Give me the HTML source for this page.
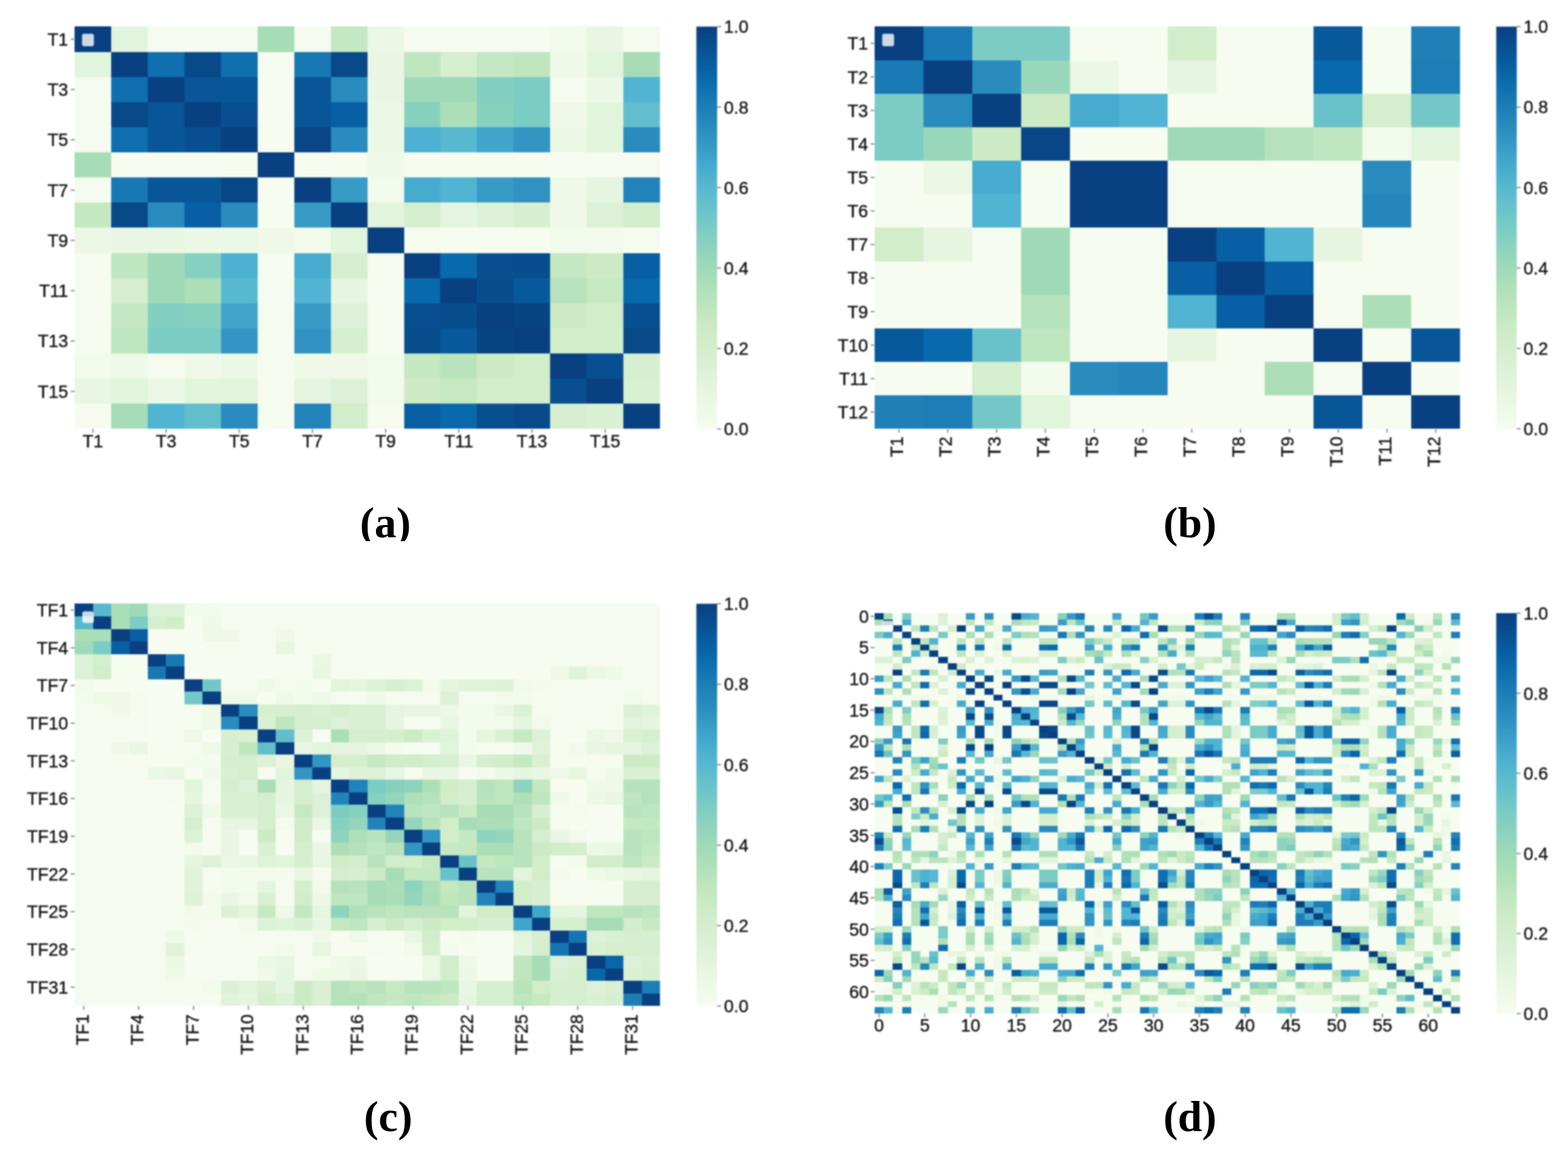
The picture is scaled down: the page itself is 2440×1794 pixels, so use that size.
<!DOCTYPE html>
<html lang="en"><head><meta charset="utf-8">
<meta name="viewport" content="width=2440">
<title>Similarity heatmaps (a)-(d)</title>
<style>
html,body{margin:0;padding:0;background:#fff;}
body{width:2440px;height:1794px;position:relative;overflow:hidden;}
.panel{position:absolute;margin:0;padding:0;}
.plot{position:absolute;left:0;top:0;display:block;overflow:visible;}
figcaption{position:absolute;overflow:hidden;text-align:center;font-family:"Liberation Serif","Times New Roman",serif;font-weight:bold;color:#000;line-height:1;white-space:nowrap;}
figcaption span{display:block;filter:blur(0.6px);}

</style></head><body>
<figure class="panel" style="left:0px;top:0px;width:1220px;height:897px">
<svg class="plot" width="1220" height="760" viewBox="0 0 1220 760">
<defs><linearGradient id="ga" x1="0" y1="1" x2="0" y2="0">
<stop offset="0%" stop-color="#f7fcf0"/>
<stop offset="5%" stop-color="#eef9e8"/>
<stop offset="10%" stop-color="#e5f5e0"/>
<stop offset="15%" stop-color="#dcf1d7"/>
<stop offset="20%" stop-color="#d4eece"/>
<stop offset="25%" stop-color="#ccebc5"/>
<stop offset="30%" stop-color="#bee6bf"/>
<stop offset="35%" stop-color="#afe0b8"/>
<stop offset="40%" stop-color="#9fdab8"/>
<stop offset="45%" stop-color="#8dd3be"/>
<stop offset="50%" stop-color="#7accc4"/>
<stop offset="55%" stop-color="#69c2ca"/>
<stop offset="60%" stop-color="#57b8d0"/>
<stop offset="65%" stop-color="#47abcf"/>
<stop offset="70%" stop-color="#389bc6"/>
<stop offset="75%" stop-color="#2a8bbe"/>
<stop offset="80%" stop-color="#1d7eb7"/>
<stop offset="85%" stop-color="#0f6faf"/>
<stop offset="90%" stop-color="#085fa3"/>
<stop offset="95%" stop-color="#084f91"/>
<stop offset="100%" stop-color="#084081"/>
</linearGradient></defs>
<g class="cells" shape-rendering="crispEdges" style="filter:blur(1.2px)">
<g transform="translate(116.1 41.4) scale(56.9375 39.13125)">
<path fill="#f6fbef" d="M0 0h16v16h-16z"/>
<path fill="#f7fcf0" d="M5 1h1v1h-1zM5 2h1v1h-1zM5 3h1v1h-1zM5 4h1v1h-1zM1 5h4v1h-4zM6 5h2v1h-2zM5 6h1v1h-1zM5 7h1v1h-1z"/>
<path fill="#f2faeb" d="M13 0h1v1h-1zM8 6h1v1h-1zM6 8h1v1h-1zM13 8h2v1h-2zM0 13h1v1h-1zM8 13h1v1h-1zM8 14h1v1h-1z"/>
<path fill="#f0f9e9" d="M13 3h1v1h-1zM8 5h1v1h-1zM13 7h1v1h-1zM5 8h1v1h-1zM3 13h1v1h-1zM7 13h1v1h-1z"/>
<path fill="#eef9e8" d="M13 1h1v1h-1zM13 6h1v1h-1zM1 13h1v1h-1zM6 13h1v1h-1z"/>
<path fill="#ecf8e6" d="M8 0h1v1h-1zM14 2h1v1h-1zM8 3h1v1h-1zM8 4h1v1h-1zM13 4h1v1h-1zM0 8h1v1h-1zM3 8h2v1h-2zM4 13h1v1h-1zM2 14h1v1h-1z"/>
<path fill="#e9f6e3" d="M14 0h1v1h-1zM8 1h1v1h-1zM8 2h1v1h-1zM1 8h2v1h-2zM0 14h1v1h-1z"/>
<path fill="#e5f5e0" d="M14 6h1v1h-1zM10 7h1v1h-1zM7 10h1v1h-1zM6 14h1v1h-1z"/>
<path fill="#e1f4dc" d="M1 0h1v1h-1zM0 1h1v1h-1zM14 1h1v1h-1zM14 3h1v1h-1zM14 4h1v1h-1zM8 7h1v1h-1zM7 8h1v1h-1zM1 14h1v1h-1zM3 14h2v1h-2z"/>
<path fill="#dcf1d7" d="M11 7h1v1h-1zM14 7h1v1h-1zM7 11h1v1h-1zM7 14h1v1h-1z"/>
<path fill="#d9f0d3" d="M15 14h1v1h-1zM14 15h1v1h-1z"/>
<path fill="#d7efd1" d="M12 7h1v1h-1zM7 12h1v1h-1zM15 13h1v1h-1zM13 15h1v1h-1z"/>
<path fill="#d4eece" d="M10 1h1v1h-1zM9 7h1v1h-1zM7 9h1v1h-1zM1 10h1v1h-1z"/>
<path fill="#d1edca" d="M15 7h1v1h-1zM14 11h1v1h-1zM13 12h2v1h-2zM12 13h1v1h-1zM11 14h2v1h-2zM7 15h1v1h-1z"/>
<path fill="#ccebc5" d="M14 9h1v1h-1zM13 11h1v1h-1zM11 13h1v1h-1zM9 14h1v1h-1z"/>
<path fill="#c6e9c2" d="M14 10h1v1h-1zM10 14h1v1h-1z"/>
<path fill="#c4e8c1" d="M7 0h1v1h-1zM11 1h1v1h-1zM0 7h1v1h-1zM13 9h1v1h-1zM1 11h1v1h-1zM9 13h1v1h-1z"/>
<path fill="#bee6bf" d="M9 1h1v1h-1zM12 1h1v1h-1zM1 9h1v1h-1zM1 12h1v1h-1z"/>
<path fill="#b9e3bc" d="M13 10h1v1h-1zM10 13h1v1h-1z"/>
<path fill="#acdfb7" d="M10 3h1v1h-1zM3 10h1v1h-1z"/>
<path fill="#a6dcb6" d="M5 0h1v1h-1zM15 1h1v1h-1zM0 5h1v1h-1zM1 15h1v1h-1z"/>
<path fill="#9fdab8" d="M9 2h2v1h-2zM2 9h1v1h-1zM2 10h1v1h-1z"/>
<path fill="#86d0c0" d="M9 3h1v1h-1zM11 3h1v1h-1zM3 9h1v1h-1zM3 11h1v1h-1z"/>
<path fill="#83cfc1" d="M11 2h1v1h-1zM2 11h1v1h-1z"/>
<path fill="#7accc4" d="M12 2h1v1h-1zM12 3h1v1h-1zM2 12h2v1h-2z"/>
<path fill="#62becc" d="M15 3h1v1h-1zM3 15h1v1h-1z"/>
<path fill="#57b8d0" d="M10 4h1v1h-1zM4 10h1v1h-1z"/>
<path fill="#50b4d2" d="M15 2h1v1h-1zM10 6h1v1h-1zM6 10h1v1h-1zM2 15h1v1h-1z"/>
<path fill="#4cb1d2" d="M9 4h1v1h-1zM4 9h1v1h-1z"/>
<path fill="#47abcf" d="M9 6h1v1h-1zM6 9h1v1h-1z"/>
<path fill="#41a5cb" d="M11 4h1v1h-1zM4 11h1v1h-1z"/>
<path fill="#389bc6" d="M7 6h1v1h-1zM11 6h1v1h-1zM6 7h1v1h-1zM6 11h1v1h-1z"/>
<path fill="#3395c3" d="M12 4h1v1h-1zM4 12h1v1h-1z"/>
<path fill="#3192c1" d="M12 6h1v1h-1zM6 12h1v1h-1z"/>
<path fill="#2a8bbe" d="M7 2h1v1h-1zM7 4h1v1h-1zM15 4h1v1h-1zM2 7h1v1h-1zM4 7h1v1h-1zM4 15h1v1h-1z"/>
<path fill="#2283ba" d="M15 6h1v1h-1zM6 15h1v1h-1z"/>
<path fill="#1878b4" d="M6 1h1v1h-1zM1 6h1v1h-1z"/>
<path fill="#0f6faf" d="M2 1h1v1h-1zM4 1h1v1h-1zM1 2h1v1h-1zM1 4h1v1h-1z"/>
<path fill="#0969ad" d="M10 9h1v1h-1zM9 10h1v1h-1zM15 10h1v1h-1zM10 15h1v1h-1z"/>
<path fill="#085fa3" d="M7 3h1v1h-1zM3 7h1v1h-1zM15 9h1v1h-1zM9 15h1v1h-1z"/>
<path fill="#08599c" d="M12 10h1v1h-1zM10 12h1v1h-1z"/>
<path fill="#085598" d="M3 2h2v1h-2zM6 2h1v1h-1zM2 3h1v1h-1zM6 3h1v1h-1zM2 4h1v1h-1zM2 6h2v1h-2z"/>
<path fill="#084f91" d="M4 3h1v1h-1zM3 4h1v1h-1zM11 9h1v1h-1zM9 11h1v1h-1zM15 11h1v1h-1zM14 13h1v1h-1zM13 14h1v1h-1zM11 15h1v1h-1z"/>
<path fill="#084d8e" d="M12 9h1v1h-1zM11 10h1v1h-1zM10 11h1v1h-1zM9 12h1v1h-1z"/>
<path fill="#08498a" d="M3 1h1v1h-1zM7 1h1v1h-1zM1 3h1v1h-1zM1 7h1v1h-1zM15 12h1v1h-1zM12 15h1v1h-1z"/>
<path fill="#084688" d="M6 4h1v1h-1zM4 6h1v1h-1z"/>
<path fill="#084384" d="M12 11h1v1h-1zM11 12h1v1h-1z"/>
<path fill="#084081" d="M0 0h1v1h-1zM1 1h1v1h-1zM2 2h1v1h-1zM3 3h1v1h-1zM4 4h1v1h-1zM5 5h1v1h-1zM6 6h1v1h-1zM7 7h1v1h-1zM8 8h1v1h-1zM9 9h1v1h-1zM10 10h1v1h-1zM11 11h1v1h-1zM12 12h1v1h-1zM13 13h1v1h-1zM14 14h1v1h-1zM15 15h1v1h-1z"/>
</g>
</g>
<g class="deco" style="filter:blur(0.85px)">
<rect class="marker" x="127.6" y="52.4" width="18.5" height="19.5" rx="3.5" fill="#fff" fill-opacity="0.8"/>
<g class="ticks" stroke="#777" stroke-width="1.7">
<line x1="110.1" y1="60.97" x2="116.1" y2="60.97"/>
<line x1="110.1" y1="139.23" x2="116.1" y2="139.23"/>
<line x1="110.1" y1="217.49" x2="116.1" y2="217.49"/>
<line x1="110.1" y1="295.75" x2="116.1" y2="295.75"/>
<line x1="110.1" y1="374.02" x2="116.1" y2="374.02"/>
<line x1="110.1" y1="452.28" x2="116.1" y2="452.28"/>
<line x1="110.1" y1="530.54" x2="116.1" y2="530.54"/>
<line x1="110.1" y1="608.8" x2="116.1" y2="608.8"/>
<line x1="144.57" y1="667.5" x2="144.57" y2="673.5"/>
<line x1="258.44" y1="667.5" x2="258.44" y2="673.5"/>
<line x1="372.32" y1="667.5" x2="372.32" y2="673.5"/>
<line x1="486.19" y1="667.5" x2="486.19" y2="673.5"/>
<line x1="600.07" y1="667.5" x2="600.07" y2="673.5"/>
<line x1="713.94" y1="667.5" x2="713.94" y2="673.5"/>
<line x1="827.82" y1="667.5" x2="827.82" y2="673.5"/>
<line x1="941.69" y1="667.5" x2="941.69" y2="673.5"/>
<line x1="1116" y1="667.5" x2="1122" y2="667.5"/>
<line x1="1116" y1="542.28" x2="1122" y2="542.28"/>
<line x1="1116" y1="417.06" x2="1122" y2="417.06"/>
<line x1="1116" y1="291.84" x2="1122" y2="291.84"/>
<line x1="1116" y1="166.62" x2="1122" y2="166.62"/>
<line x1="1116" y1="41.4" x2="1122" y2="41.4"/>
</g>
<g class="labels" font-family="'Liberation Sans', Arial, sans-serif" font-size="27.5" fill="#141414" stroke="#141414" stroke-width="0.5">
<text x="106.1" y="70.87" text-anchor="end">T1</text>
<text x="106.1" y="149.13" text-anchor="end">T3</text>
<text x="106.1" y="227.39" text-anchor="end">T5</text>
<text x="106.1" y="305.65" text-anchor="end">T7</text>
<text x="106.1" y="383.92" text-anchor="end">T9</text>
<text x="106.1" y="462.18" text-anchor="end">T11</text>
<text x="106.1" y="540.44" text-anchor="end">T13</text>
<text x="106.1" y="618.7" text-anchor="end">T15</text>
<text x="144.57" y="696.1" text-anchor="middle">T1</text>
<text x="258.44" y="696.1" text-anchor="middle">T3</text>
<text x="372.32" y="696.1" text-anchor="middle">T5</text>
<text x="486.19" y="696.1" text-anchor="middle">T7</text>
<text x="600.07" y="696.1" text-anchor="middle">T9</text>
<text x="713.94" y="696.1" text-anchor="middle">T11</text>
<text x="827.82" y="696.1" text-anchor="middle">T13</text>
<text x="941.69" y="696.1" text-anchor="middle">T15</text>
<text x="1126.5" y="677.4">0.0</text>
<text x="1126.5" y="552.18">0.2</text>
<text x="1126.5" y="426.96">0.4</text>
<text x="1126.5" y="301.74">0.6</text>
<text x="1126.5" y="176.52">0.8</text>
<text x="1126.5" y="51.3">1.0</text>
</g>
<rect class="cbar" x="1083.6" y="41.4" width="32.4" height="626.1" fill="url(#ga)"/>
</g>
</svg>
<figcaption style="left:499.7px;top:778.75px;width:200px;height:62.85px;font-size:68px"><span>(a)</span></figcaption>
</figure>
<figure class="panel" style="left:1220px;top:0px;width:1220px;height:897px">
<svg class="plot" width="1220" height="760" viewBox="1220 0 1220 760">
<defs><linearGradient id="gb" x1="0" y1="1" x2="0" y2="0">
<stop offset="0%" stop-color="#f7fcf0"/>
<stop offset="5%" stop-color="#eef9e8"/>
<stop offset="10%" stop-color="#e5f5e0"/>
<stop offset="15%" stop-color="#dcf1d7"/>
<stop offset="20%" stop-color="#d4eece"/>
<stop offset="25%" stop-color="#ccebc5"/>
<stop offset="30%" stop-color="#bee6bf"/>
<stop offset="35%" stop-color="#afe0b8"/>
<stop offset="40%" stop-color="#9fdab8"/>
<stop offset="45%" stop-color="#8dd3be"/>
<stop offset="50%" stop-color="#7accc4"/>
<stop offset="55%" stop-color="#69c2ca"/>
<stop offset="60%" stop-color="#57b8d0"/>
<stop offset="65%" stop-color="#47abcf"/>
<stop offset="70%" stop-color="#389bc6"/>
<stop offset="75%" stop-color="#2a8bbe"/>
<stop offset="80%" stop-color="#1d7eb7"/>
<stop offset="85%" stop-color="#0f6faf"/>
<stop offset="90%" stop-color="#085fa3"/>
<stop offset="95%" stop-color="#084f91"/>
<stop offset="100%" stop-color="#084081"/>
</linearGradient></defs>
<g class="cells" shape-rendering="crispEdges" style="filter:blur(1.2px)">
<g transform="translate(1360.8 41.4) scale(75.95833 52.15833)">
<path fill="#f7fcf0" d="M0 0h12v12h-12z"/>
<path fill="#f2faeb" d="M10 3h1v1h-1zM3 10h1v1h-1z"/>
<path fill="#ecf8e6" d="M4 1h1v1h-1zM1 4h1v1h-1z"/>
<path fill="#e5f5e0" d="M6 1h1v1h-1zM1 6h1v1h-1zM9 6h1v1h-1zM6 9h1v1h-1z"/>
<path fill="#e1f4dc" d="M11 3h1v1h-1zM3 11h1v1h-1z"/>
<path fill="#d4eece" d="M10 2h1v1h-1zM2 10h1v1h-1z"/>
<path fill="#d1edca" d="M6 0h1v1h-1zM0 6h1v1h-1z"/>
<path fill="#ccebc5" d="M3 2h1v1h-1zM2 3h1v1h-1z"/>
<path fill="#bee6bf" d="M9 3h1v1h-1zM3 9h1v1h-1z"/>
<path fill="#b5e2bb" d="M8 3h1v1h-1zM3 8h1v1h-1z"/>
<path fill="#acdfb7" d="M10 8h1v1h-1zM8 10h1v1h-1z"/>
<path fill="#9fdab8" d="M6 3h2v1h-2zM3 6h1v1h-1zM3 7h1v1h-1z"/>
<path fill="#98d7ba" d="M3 1h1v1h-1zM1 3h1v1h-1z"/>
<path fill="#7accc4" d="M2 0h2v1h-2zM0 2h1v1h-1zM0 3h1v1h-1z"/>
<path fill="#73c8c7" d="M11 2h1v1h-1zM2 11h1v1h-1z"/>
<path fill="#69c2ca" d="M9 2h1v1h-1zM2 9h1v1h-1z"/>
<path fill="#50b4d2" d="M5 2h1v1h-1zM2 5h1v1h-1zM8 6h1v1h-1zM6 8h1v1h-1z"/>
<path fill="#47abcf" d="M4 2h1v1h-1zM2 4h1v1h-1z"/>
<path fill="#2a8bbe" d="M2 1h1v1h-1zM1 2h1v1h-1zM10 4h1v1h-1zM4 10h1v1h-1z"/>
<path fill="#2586bb" d="M10 5h1v1h-1zM5 10h1v1h-1z"/>
<path fill="#1f80b8" d="M11 0h1v1h-1zM0 11h1v1h-1z"/>
<path fill="#1d7eb7" d="M11 1h1v1h-1zM1 11h1v1h-1z"/>
<path fill="#1a7ab5" d="M1 0h1v1h-1zM0 1h1v1h-1z"/>
<path fill="#0969ad" d="M9 1h1v1h-1zM1 9h1v1h-1z"/>
<path fill="#085fa3" d="M7 6h1v1h-1zM6 7h1v1h-1zM8 7h1v1h-1zM7 8h1v1h-1z"/>
<path fill="#08599c" d="M9 0h1v1h-1zM0 9h1v1h-1z"/>
<path fill="#085598" d="M11 9h1v1h-1zM9 11h1v1h-1z"/>
<path fill="#084688" d="M3 3h1v1h-1z"/>
<path fill="#084081" d="M0 0h1v1h-1zM1 1h1v1h-1zM2 2h1v1h-1zM4 4h2v1h-2zM4 5h2v1h-2zM6 6h1v1h-1zM7 7h1v1h-1zM8 8h1v1h-1zM9 9h1v1h-1zM10 10h1v1h-1zM11 11h1v1h-1z"/>
</g>
</g>
<g class="deco" style="filter:blur(0.85px)">
<rect class="marker" x="1372.8" y="52.6" width="18.5" height="19.5" rx="3.5" fill="#fff" fill-opacity="0.8"/>
<g class="ticks" stroke="#777" stroke-width="1.7">
<line x1="1354.8" y1="67.48" x2="1360.8" y2="67.48"/>
<line x1="1354.8" y1="119.64" x2="1360.8" y2="119.64"/>
<line x1="1354.8" y1="171.8" x2="1360.8" y2="171.8"/>
<line x1="1354.8" y1="223.95" x2="1360.8" y2="223.95"/>
<line x1="1354.8" y1="276.11" x2="1360.8" y2="276.11"/>
<line x1="1354.8" y1="328.27" x2="1360.8" y2="328.27"/>
<line x1="1354.8" y1="380.43" x2="1360.8" y2="380.43"/>
<line x1="1354.8" y1="432.59" x2="1360.8" y2="432.59"/>
<line x1="1354.8" y1="484.75" x2="1360.8" y2="484.75"/>
<line x1="1354.8" y1="536.9" x2="1360.8" y2="536.9"/>
<line x1="1354.8" y1="589.06" x2="1360.8" y2="589.06"/>
<line x1="1354.8" y1="641.22" x2="1360.8" y2="641.22"/>
<line x1="1398.78" y1="667.3" x2="1398.78" y2="673.3"/>
<line x1="1474.74" y1="667.3" x2="1474.74" y2="673.3"/>
<line x1="1550.7" y1="667.3" x2="1550.7" y2="673.3"/>
<line x1="1626.65" y1="667.3" x2="1626.65" y2="673.3"/>
<line x1="1702.61" y1="667.3" x2="1702.61" y2="673.3"/>
<line x1="1778.57" y1="667.3" x2="1778.57" y2="673.3"/>
<line x1="1854.53" y1="667.3" x2="1854.53" y2="673.3"/>
<line x1="1930.49" y1="667.3" x2="1930.49" y2="673.3"/>
<line x1="2006.45" y1="667.3" x2="2006.45" y2="673.3"/>
<line x1="2082.4" y1="667.3" x2="2082.4" y2="673.3"/>
<line x1="2158.36" y1="667.3" x2="2158.36" y2="673.3"/>
<line x1="2234.32" y1="667.3" x2="2234.32" y2="673.3"/>
<line x1="2360.3" y1="667.3" x2="2366.3" y2="667.3"/>
<line x1="2360.3" y1="542.12" x2="2366.3" y2="542.12"/>
<line x1="2360.3" y1="416.94" x2="2366.3" y2="416.94"/>
<line x1="2360.3" y1="291.76" x2="2366.3" y2="291.76"/>
<line x1="2360.3" y1="166.58" x2="2366.3" y2="166.58"/>
<line x1="2360.3" y1="41.4" x2="2366.3" y2="41.4"/>
</g>
<g class="labels" font-family="'Liberation Sans', Arial, sans-serif" font-size="27.5" fill="#141414" stroke="#141414" stroke-width="0.5">
<text x="1350.8" y="77.38" text-anchor="end">T1</text>
<text x="1350.8" y="129.54" text-anchor="end">T2</text>
<text x="1350.8" y="181.7" text-anchor="end">T3</text>
<text x="1350.8" y="233.85" text-anchor="end">T4</text>
<text x="1350.8" y="286.01" text-anchor="end">T5</text>
<text x="1350.8" y="338.17" text-anchor="end">T6</text>
<text x="1350.8" y="390.33" text-anchor="end">T7</text>
<text x="1350.8" y="442.49" text-anchor="end">T8</text>
<text x="1350.8" y="494.65" text-anchor="end">T9</text>
<text x="1350.8" y="546.8" text-anchor="end">T10</text>
<text x="1350.8" y="598.96" text-anchor="end">T11</text>
<text x="1350.8" y="651.12" text-anchor="end">T12</text>
<text transform="translate(1405.38 679.1) rotate(-90)" text-anchor="end">T1</text>
<text transform="translate(1481.34 679.1) rotate(-90)" text-anchor="end">T2</text>
<text transform="translate(1557.3 679.1) rotate(-90)" text-anchor="end">T3</text>
<text transform="translate(1633.25 679.1) rotate(-90)" text-anchor="end">T4</text>
<text transform="translate(1709.21 679.1) rotate(-90)" text-anchor="end">T5</text>
<text transform="translate(1785.17 679.1) rotate(-90)" text-anchor="end">T6</text>
<text transform="translate(1861.13 679.1) rotate(-90)" text-anchor="end">T7</text>
<text transform="translate(1937.09 679.1) rotate(-90)" text-anchor="end">T8</text>
<text transform="translate(2013.05 679.1) rotate(-90)" text-anchor="end">T9</text>
<text transform="translate(2089 679.1) rotate(-90)" text-anchor="end">T10</text>
<text transform="translate(2164.96 679.1) rotate(-90)" text-anchor="end">T11</text>
<text transform="translate(2240.92 679.1) rotate(-90)" text-anchor="end">T12</text>
<text x="2370.8" y="677.2">0.0</text>
<text x="2370.8" y="552.02">0.2</text>
<text x="2370.8" y="426.84">0.4</text>
<text x="2370.8" y="301.66">0.6</text>
<text x="2370.8" y="176.48">0.8</text>
<text x="2370.8" y="51.3">1.0</text>
</g>
<rect class="cbar" x="2328.3" y="41.4" width="32" height="625.9" fill="url(#gb)"/>
</g>
</svg>
<figcaption style="left:531.7px;top:778.75px;width:200px;height:96.95px;font-size:68px"><span>(b)</span></figcaption>
</figure>
<figure class="panel" style="left:0px;top:897px;width:1220px;height:897px">
<svg class="plot" width="1220" height="780" viewBox="0 897 1220 780">
<defs><linearGradient id="gc" x1="0" y1="1" x2="0" y2="0">
<stop offset="0%" stop-color="#f7fcf0"/>
<stop offset="5%" stop-color="#eef9e8"/>
<stop offset="10%" stop-color="#e5f5e0"/>
<stop offset="15%" stop-color="#dcf1d7"/>
<stop offset="20%" stop-color="#d4eece"/>
<stop offset="25%" stop-color="#ccebc5"/>
<stop offset="30%" stop-color="#bee6bf"/>
<stop offset="35%" stop-color="#afe0b8"/>
<stop offset="40%" stop-color="#9fdab8"/>
<stop offset="45%" stop-color="#8dd3be"/>
<stop offset="50%" stop-color="#7accc4"/>
<stop offset="55%" stop-color="#69c2ca"/>
<stop offset="60%" stop-color="#57b8d0"/>
<stop offset="65%" stop-color="#47abcf"/>
<stop offset="70%" stop-color="#389bc6"/>
<stop offset="75%" stop-color="#2a8bbe"/>
<stop offset="80%" stop-color="#1d7eb7"/>
<stop offset="85%" stop-color="#0f6faf"/>
<stop offset="90%" stop-color="#085fa3"/>
<stop offset="95%" stop-color="#084f91"/>
<stop offset="100%" stop-color="#084081"/>
</linearGradient></defs>
<g class="cells" shape-rendering="crispEdges" style="filter:blur(1.2px)">
<g transform="translate(116.1 939.4) scale(28.46875 19.55625)">
<path fill="#f6fbef" d="M0 0h32v32h-32z"/>
<path fill="#f7fcf0" d="M6 1h1v1h-1zM4 2h3v1h-3zM4 3h3v1h-3zM2 4h2v1h-2zM6 4h7v1h-7zM2 5h2v1h-2zM6 5h7v1h-7zM16 5h10v1h-10zM1 6h5v1h-5zM13 6h1v1h-1zM4 7h2v1h-2zM10 7h1v1h-1zM4 8h2v1h-2zM4 9h2v1h-2zM18 9h2v1h-2zM4 10h2v1h-2zM7 10h1v1h-1zM13 10h1v1h-1zM4 11h2v1h-2zM18 11h2v1h-2zM4 12h2v1h-2zM6 13h1v1h-1zM10 13h1v1h-1zM18 13h1v1h-1zM26 14h2v1h-2zM27 15h1v1h-1zM5 16h1v1h-1zM28 16h2v1h-2zM5 17h1v1h-1zM27 17h3v1h-3zM5 18h1v1h-1zM9 18h1v1h-1zM11 18h1v1h-1zM13 18h1v1h-1zM28 18h2v1h-2zM5 19h1v1h-1zM9 19h1v1h-1zM11 19h1v1h-1zM5 20h1v1h-1zM26 20h1v1h-1zM5 21h1v1h-1zM27 21h1v1h-1zM5 22h1v1h-1zM26 22h4v1h-4zM5 23h1v1h-1zM26 23h4v1h-4zM5 24h1v1h-1zM5 25h1v1h-1zM14 26h1v1h-1zM20 26h1v1h-1zM22 26h2v1h-2zM14 27h2v1h-2zM17 27h1v1h-1zM21 27h3v1h-3zM16 28h3v1h-3zM22 28h2v1h-2zM16 29h3v1h-3zM22 29h2v1h-2z"/>
<path fill="#f3fbed" d="M7 0h1v1h-1zM12 6h1v1h-1zM25 6h1v1h-1zM0 7h1v1h-1zM12 7h1v1h-1zM24 7h1v1h-1zM21 8h2v1h-2zM21 9h2v1h-2zM21 10h1v1h-1zM17 11h1v1h-1zM21 11h1v1h-1zM6 12h2v1h-2zM11 17h1v1h-1zM27 20h1v1h-1zM8 21h4v1h-4zM26 21h1v1h-1zM8 22h2v1h-2zM7 24h1v1h-1zM6 25h1v1h-1zM21 26h1v1h-1zM20 27h1v1h-1z"/>
<path fill="#f2faeb" d="M6 0h1v1h-1zM0 6h1v1h-1zM19 6h1v1h-1zM24 6h1v1h-1zM23 7h1v1h-1zM30 7h1v1h-1zM23 9h1v1h-1zM25 9h1v1h-1zM27 11h1v1h-1zM22 13h1v1h-1zM27 18h1v1h-1zM6 19h1v1h-1zM13 22h1v1h-1zM7 23h1v1h-1zM9 23h1v1h-1zM6 24h1v1h-1zM9 25h1v1h-1zM11 27h1v1h-1zM18 27h1v1h-1zM7 30h1v1h-1z"/>
<path fill="#f0f9e9" d="M7 2h2v1h-2zM11 2h1v1h-1zM2 7h1v1h-1zM13 7h1v1h-1zM2 8h1v1h-1zM29 10h1v1h-1zM2 11h1v1h-1zM24 11h1v1h-1zM7 13h1v1h-1zM26 13h1v1h-1zM11 24h1v1h-1zM13 26h1v1h-1zM10 29h1v1h-1z"/>
<path fill="#eef9e8" d="M7 1h1v1h-1zM26 5h1v1h-1zM29 5h1v1h-1zM10 6h1v1h-1zM1 7h1v1h-1zM8 7h2v1h-2zM11 7h1v1h-1zM16 7h1v1h-1zM7 8h1v1h-1zM7 9h1v1h-1zM6 10h1v1h-1zM7 11h1v1h-1zM29 13h1v1h-1zM28 14h2v1h-2zM26 15h1v1h-1zM7 16h1v1h-1zM28 21h1v1h-1zM5 26h1v1h-1zM15 26h1v1h-1zM14 28h1v1h-1zM21 28h1v1h-1zM5 29h1v1h-1zM13 29h2v1h-2z"/>
<path fill="#ecf8e6" d="M28 5h1v1h-1zM20 8h1v1h-1zM28 10h1v1h-1zM23 13h1v1h-1zM28 15h1v1h-1zM28 19h1v1h-1zM8 20h1v1h-1zM29 21h1v1h-1zM13 23h1v1h-1zM5 28h1v1h-1zM10 28h1v1h-1zM15 28h1v1h-1zM19 28h1v1h-1zM21 29h1v1h-1z"/>
<path fill="#ebf7e5" d="M13 4h1v1h-1zM16 11h1v1h-1zM4 13h1v1h-1zM11 16h1v1h-1zM29 19h1v1h-1zM19 29h1v1h-1z"/>
<path fill="#e9f6e3" d="M11 3h1v1h-1zM13 5h1v1h-1zM18 8h2v1h-2zM23 8h1v1h-1zM20 9h1v1h-1zM3 11h1v1h-1zM12 11h1v1h-1zM28 11h1v1h-1zM11 12h1v1h-1zM21 12h1v1h-1zM5 13h1v1h-1zM17 13h1v1h-1zM19 13h2v1h-2zM25 13h1v1h-1zM29 15h1v1h-1zM13 17h1v1h-1zM8 18h1v1h-1zM26 18h1v1h-1zM8 19h1v1h-1zM13 19h1v1h-1zM9 20h1v1h-1zM13 20h1v1h-1zM12 21h1v1h-1zM30 21h1v1h-1zM8 23h1v1h-1zM13 25h1v1h-1zM18 26h1v1h-1zM11 28h1v1h-1zM15 29h1v1h-1zM21 30h1v1h-1z"/>
<path fill="#e6f6e1" d="M27 13h1v1h-1zM13 27h1v1h-1z"/>
<path fill="#e5f5e0" d="M15 6h1v1h-1zM20 6h1v1h-1zM17 8h1v1h-1zM17 9h1v1h-1zM24 9h1v1h-1zM31 9h1v1h-1zM22 10h1v1h-1zM14 11h2v1h-2zM29 11h2v1h-2zM14 13h1v1h-1zM24 13h1v1h-1zM11 14h1v1h-1zM13 14h1v1h-1zM6 15h1v1h-1zM11 15h1v1h-1zM8 17h2v1h-2zM6 20h1v1h-1zM31 21h1v1h-1zM10 22h1v1h-1zM9 24h1v1h-1zM13 24h1v1h-1zM27 24h1v1h-1zM24 27h1v1h-1zM11 29h1v1h-1zM11 30h1v1h-1zM9 31h1v1h-1zM21 31h1v1h-1z"/>
<path fill="#e1f4dc" d="M14 6h1v1h-1zM30 9h1v1h-1zM13 11h1v1h-1zM20 11h1v1h-1zM11 13h1v1h-1zM6 14h1v1h-1zM11 20h1v1h-1zM24 21h1v1h-1zM21 24h1v1h-1zM26 24h1v1h-1zM24 26h1v1h-1zM9 30h1v1h-1z"/>
<path fill="#dff3da" d="M27 5h1v1h-1zM21 6h2v1h-2zM31 8h1v1h-1zM20 10h1v1h-1zM25 11h1v1h-1zM10 20h1v1h-1zM6 21h1v1h-1zM6 22h1v1h-1zM11 25h1v1h-1zM5 27h1v1h-1zM8 31h1v1h-1z"/>
<path fill="#def2d9" d="M23 6h1v1h-1zM6 23h1v1h-1z"/>
<path fill="#dcf1d7" d="M4 0h2v1h-2zM0 4h1v1h-1zM0 5h1v1h-1zM16 6h1v1h-1zM18 6h1v1h-1zM20 7h1v1h-1zM14 9h1v1h-1zM12 10h1v1h-1zM25 10h1v1h-1zM31 11h1v1h-1zM10 12h1v1h-1zM15 13h2v1h-2zM9 14h1v1h-1zM13 15h1v1h-1zM6 16h1v1h-1zM13 16h1v1h-1zM6 18h1v1h-1zM7 20h1v1h-1zM10 25h1v1h-1zM28 26h1v1h-1zM26 28h1v1h-1zM30 28h1v1h-1zM28 30h1v1h-1zM11 31h1v1h-1z"/>
<path fill="#dbf1d5" d="M24 8h1v1h-1zM30 8h1v1h-1zM8 24h1v1h-1zM8 30h1v1h-1z"/>
<path fill="#d9f0d3" d="M13 8h1v1h-1zM15 8h2v1h-2zM10 9h1v1h-1zM15 9h2v1h-2zM9 10h1v1h-1zM19 10h1v1h-1zM23 10h1v1h-1zM30 10h1v1h-1zM25 12h1v1h-1zM8 13h1v1h-1zM30 13h2v1h-2zM8 15h2v1h-2zM8 16h2v1h-2zM10 19h1v1h-1zM10 23h1v1h-1zM12 25h1v1h-1zM29 26h1v1h-1zM28 27h1v1h-1zM27 28h1v1h-1zM31 28h1v1h-1zM26 29h1v1h-1zM30 29h1v1h-1zM10 30h1v1h-1zM13 30h1v1h-1zM29 30h1v1h-1zM13 31h1v1h-1zM28 31h1v1h-1z"/>
<path fill="#d7efd1" d="M17 6h1v1h-1zM10 8h2v1h-2zM8 10h1v1h-1zM31 10h1v1h-1zM8 11h1v1h-1zM20 12h1v1h-1zM21 15h1v1h-1zM25 16h1v1h-1zM6 17h1v1h-1zM12 20h1v1h-1zM15 21h1v1h-1zM25 22h1v1h-1zM30 22h1v1h-1zM25 23h1v1h-1zM30 23h1v1h-1zM16 25h1v1h-1zM22 25h2v1h-2zM26 25h1v1h-1zM25 26h1v1h-1zM31 26h1v1h-1zM31 29h1v1h-1zM22 30h2v1h-2zM10 31h1v1h-1zM26 31h1v1h-1zM29 31h1v1h-1z"/>
<path fill="#d4eece" d="M4 1h1v1h-1zM1 4h1v1h-1zM12 8h1v1h-1zM14 8h1v1h-1zM12 9h2v1h-2zM15 10h3v1h-3zM8 12h2v1h-2zM14 12h2v1h-2zM19 12h1v1h-1zM22 12h1v1h-1zM9 13h1v1h-1zM8 14h1v1h-1zM12 14h1v1h-1zM21 14h1v1h-1zM10 15h1v1h-1zM12 15h1v1h-1zM10 16h1v1h-1zM10 17h1v1h-1zM25 18h1v1h-1zM12 19h1v1h-1zM27 19h1v1h-1zM14 21h1v1h-1zM12 22h1v1h-1zM31 22h1v1h-1zM31 23h1v1h-1zM18 25h1v1h-1zM27 25h1v1h-1zM30 26h1v1h-1zM19 27h1v1h-1zM25 27h1v1h-1zM29 27h3v1h-3zM27 29h1v1h-1zM26 30h2v1h-2zM22 31h2v1h-2zM27 31h1v1h-1z"/>
<path fill="#d1edca" d="M5 1h1v1h-1zM1 5h1v1h-1zM23 12h1v1h-1zM20 15h1v1h-1zM20 17h1v1h-1zM20 18h1v1h-1zM26 19h1v1h-1zM15 20h1v1h-1zM17 20h2v1h-2zM25 20h1v1h-1zM28 20h2v1h-2zM25 21h1v1h-1zM24 22h1v1h-1zM12 23h1v1h-1zM24 23h1v1h-1zM22 24h2v1h-2zM20 25h2v1h-2zM30 25h1v1h-1zM19 26h1v1h-1zM20 28h1v1h-1zM20 29h1v1h-1zM25 30h1v1h-1z"/>
<path fill="#d0ecc9" d="M17 12h2v1h-2zM20 14h1v1h-1zM12 17h1v1h-1zM12 18h1v1h-1zM14 20h1v1h-1z"/>
<path fill="#ccebc5" d="M18 10h1v1h-1zM30 12h2v1h-2zM21 16h1v1h-1zM25 17h1v1h-1zM10 18h1v1h-1zM25 19h1v1h-1zM31 20h1v1h-1zM16 21h1v1h-1zM17 25h1v1h-1zM19 25h1v1h-1zM12 30h1v1h-1zM12 31h1v1h-1zM20 31h1v1h-1z"/>
<path fill="#c6e9c2" d="M24 10h1v1h-1zM16 12h1v1h-1zM12 16h1v1h-1zM30 17h1v1h-1zM20 19h1v1h-1zM19 20h1v1h-1zM10 24h1v1h-1zM31 25h1v1h-1zM17 30h1v1h-1zM25 31h1v1h-1z"/>
<path fill="#c4e8c1" d="M24 12h1v1h-1zM25 14h1v1h-1zM31 17h1v1h-1zM21 18h1v1h-1zM21 19h1v1h-1zM31 19h1v1h-1zM22 20h1v1h-1zM18 21h2v1h-2zM20 22h1v1h-1zM12 24h1v1h-1zM14 25h1v1h-1zM17 31h1v1h-1zM19 31h1v1h-1z"/>
<path fill="#bee6bf" d="M11 9h1v1h-1zM9 11h1v1h-1zM23 14h1v1h-1zM23 15h1v1h-1zM25 15h1v1h-1zM30 15h1v1h-1zM19 16h1v1h-1zM31 16h1v1h-1zM24 17h1v1h-1zM31 18h1v1h-1zM16 19h1v1h-1zM23 20h1v1h-1zM30 20h1v1h-1zM14 23h2v1h-2zM20 23h1v1h-1zM17 24h1v1h-1zM28 24h2v1h-2zM31 24h1v1h-1zM15 25h1v1h-1zM24 28h1v1h-1zM24 29h1v1h-1zM15 30h1v1h-1zM20 30h1v1h-1zM16 31h1v1h-1zM18 31h1v1h-1zM24 31h1v1h-1z"/>
<path fill="#b9e3bc" d="M22 15h1v1h-1zM18 16h1v1h-1zM20 16h1v1h-1zM24 16h1v1h-1zM30 16h1v1h-1zM19 17h1v1h-1zM16 18h1v1h-1zM24 18h1v1h-1zM30 18h1v1h-1zM17 19h1v1h-1zM24 19h1v1h-1zM30 19h1v1h-1zM16 20h1v1h-1zM24 20h1v1h-1zM22 21h2v1h-2zM15 22h1v1h-1zM21 22h1v1h-1zM21 23h1v1h-1zM16 24h1v1h-1zM18 24h3v1h-3zM30 24h1v1h-1zM16 30h1v1h-1zM18 30h2v1h-2zM24 30h1v1h-1z"/>
<path fill="#b5e2bb" d="M22 14h1v1h-1zM30 14h2v1h-2zM19 15h1v1h-1zM31 15h1v1h-1zM15 19h1v1h-1zM14 22h1v1h-1zM14 30h1v1h-1zM14 31h2v1h-2z"/>
<path fill="#afe0b8" d="M18 15h1v1h-1zM24 15h1v1h-1zM15 18h1v1h-1zM15 24h1v1h-1z"/>
<path fill="#acdfb7" d="M19 14h1v1h-1zM22 17h1v1h-1zM14 19h1v1h-1zM22 19h1v1h-1zM17 22h1v1h-1zM19 22h1v1h-1z"/>
<path fill="#aadeb6" d="M2 0h1v1h-1zM2 1h1v1h-1zM0 2h2v1h-2zM14 10h1v1h-1zM10 14h1v1h-1zM23 17h1v1h-1zM23 19h1v1h-1zM17 23h1v1h-1zM19 23h1v1h-1z"/>
<path fill="#a6dcb6" d="M22 16h2v1h-2zM21 17h1v1h-1zM17 21h1v1h-1zM16 22h1v1h-1zM16 23h1v1h-1zM28 25h2v1h-2zM25 28h1v1h-1zM25 29h1v1h-1z"/>
<path fill="#9fdab8" d="M3 0h1v1h-1zM0 3h1v1h-1z"/>
<path fill="#94d5bc" d="M17 15h1v1h-1zM15 17h1v1h-1zM18 17h1v1h-1zM17 18h1v1h-1zM23 18h1v1h-1zM18 23h1v1h-1z"/>
<path fill="#8dd3be" d="M18 14h1v1h-1zM24 14h1v1h-1zM14 18h1v1h-1zM22 18h1v1h-1zM18 22h1v1h-1zM14 24h1v1h-1z"/>
<path fill="#86d0c0" d="M17 14h1v1h-1zM16 15h1v1h-1zM15 16h1v1h-1zM14 17h1v1h-1z"/>
<path fill="#7accc4" d="M3 1h1v1h-1zM1 3h1v1h-1zM16 14h1v1h-1zM14 16h1v1h-1z"/>
<path fill="#73c8c7" d="M7 6h1v1h-1zM6 7h1v1h-1z"/>
<path fill="#69c2ca" d="M21 20h1v1h-1zM20 21h1v1h-1z"/>
<path fill="#62becc" d="M11 10h1v1h-1zM10 11h1v1h-1z"/>
<path fill="#57b8d0" d="M1 0h1v1h-1zM0 1h1v1h-1z"/>
<path fill="#41a5cb" d="M25 24h1v1h-1zM24 25h1v1h-1z"/>
<path fill="#3395c3" d="M13 12h1v1h-1zM12 13h1v1h-1zM19 18h1v1h-1zM18 19h1v1h-1z"/>
<path fill="#2a8bbe" d="M9 8h1v1h-1zM8 9h1v1h-1z"/>
<path fill="#2283ba" d="M15 14h1v1h-1zM14 15h1v1h-1zM17 16h1v1h-1zM16 17h1v1h-1zM23 22h1v1h-1zM22 23h1v1h-1z"/>
<path fill="#1d7eb7" d="M31 30h1v1h-1zM30 31h1v1h-1z"/>
<path fill="#1878b4" d="M5 4h1v1h-1zM4 5h1v1h-1z"/>
<path fill="#1475b2" d="M27 26h1v1h-1zM26 27h1v1h-1z"/>
<path fill="#0866a9" d="M29 28h1v1h-1zM28 29h1v1h-1z"/>
<path fill="#085fa3" d="M3 2h1v1h-1zM2 3h1v1h-1z"/>
<path fill="#084081" d="M0 0h1v1h-1zM1 1h1v1h-1zM2 2h1v1h-1zM3 3h1v1h-1zM4 4h1v1h-1zM5 5h1v1h-1zM6 6h1v1h-1zM7 7h1v1h-1zM8 8h1v1h-1zM9 9h1v1h-1zM10 10h1v1h-1zM11 11h1v1h-1zM12 12h1v1h-1zM13 13h1v1h-1zM14 14h1v1h-1zM15 15h1v1h-1zM16 16h1v1h-1zM17 17h1v1h-1zM18 18h1v1h-1zM19 19h1v1h-1zM20 20h1v1h-1zM21 21h1v1h-1zM22 22h1v1h-1zM23 23h1v1h-1zM24 24h1v1h-1zM25 25h1v1h-1zM26 26h1v1h-1zM27 27h1v1h-1zM28 28h1v1h-1zM29 29h1v1h-1zM30 30h1v1h-1zM31 31h1v1h-1z"/>
</g>
</g>
<g class="deco" style="filter:blur(0.85px)">
<rect class="marker" x="128" y="951.2" width="18" height="18" rx="3.5" fill="#fff" fill-opacity="0.8"/>
<g class="ticks" stroke="#777" stroke-width="1.7">
<line x1="110.1" y1="949.18" x2="116.1" y2="949.18"/>
<line x1="110.1" y1="1007.85" x2="116.1" y2="1007.85"/>
<line x1="110.1" y1="1066.52" x2="116.1" y2="1066.52"/>
<line x1="110.1" y1="1125.18" x2="116.1" y2="1125.18"/>
<line x1="110.1" y1="1183.85" x2="116.1" y2="1183.85"/>
<line x1="110.1" y1="1242.52" x2="116.1" y2="1242.52"/>
<line x1="110.1" y1="1301.19" x2="116.1" y2="1301.19"/>
<line x1="110.1" y1="1359.86" x2="116.1" y2="1359.86"/>
<line x1="110.1" y1="1418.53" x2="116.1" y2="1418.53"/>
<line x1="110.1" y1="1477.2" x2="116.1" y2="1477.2"/>
<line x1="110.1" y1="1535.87" x2="116.1" y2="1535.87"/>
<line x1="130.33" y1="1565.2" x2="130.33" y2="1571.2"/>
<line x1="215.74" y1="1565.2" x2="215.74" y2="1571.2"/>
<line x1="301.15" y1="1565.2" x2="301.15" y2="1571.2"/>
<line x1="386.55" y1="1565.2" x2="386.55" y2="1571.2"/>
<line x1="471.96" y1="1565.2" x2="471.96" y2="1571.2"/>
<line x1="557.37" y1="1565.2" x2="557.37" y2="1571.2"/>
<line x1="642.77" y1="1565.2" x2="642.77" y2="1571.2"/>
<line x1="728.18" y1="1565.2" x2="728.18" y2="1571.2"/>
<line x1="813.58" y1="1565.2" x2="813.58" y2="1571.2"/>
<line x1="898.99" y1="1565.2" x2="898.99" y2="1571.2"/>
<line x1="984.4" y1="1565.2" x2="984.4" y2="1571.2"/>
<line x1="1116" y1="1565.2" x2="1122" y2="1565.2"/>
<line x1="1116" y1="1440.04" x2="1122" y2="1440.04"/>
<line x1="1116" y1="1314.88" x2="1122" y2="1314.88"/>
<line x1="1116" y1="1189.72" x2="1122" y2="1189.72"/>
<line x1="1116" y1="1064.56" x2="1122" y2="1064.56"/>
<line x1="1116" y1="939.4" x2="1122" y2="939.4"/>
</g>
<g class="labels" font-family="'Liberation Sans', Arial, sans-serif" font-size="27.5" fill="#141414" stroke="#141414" stroke-width="0.5">
<text x="106.1" y="959.08" text-anchor="end">TF1</text>
<text x="106.1" y="1017.75" text-anchor="end">TF4</text>
<text x="106.1" y="1076.42" text-anchor="end">TF7</text>
<text x="106.1" y="1135.08" text-anchor="end">TF10</text>
<text x="106.1" y="1193.75" text-anchor="end">TF13</text>
<text x="106.1" y="1252.42" text-anchor="end">TF16</text>
<text x="106.1" y="1311.09" text-anchor="end">TF19</text>
<text x="106.1" y="1369.76" text-anchor="end">TF22</text>
<text x="106.1" y="1428.43" text-anchor="end">TF25</text>
<text x="106.1" y="1487.1" text-anchor="end">TF28</text>
<text x="106.1" y="1545.77" text-anchor="end">TF31</text>
<text transform="translate(138.03 1578.2) rotate(-90)" text-anchor="end" font-size="27">TF1</text>
<text transform="translate(223.44 1578.2) rotate(-90)" text-anchor="end" font-size="27">TF4</text>
<text transform="translate(308.85 1578.2) rotate(-90)" text-anchor="end" font-size="27">TF7</text>
<text transform="translate(394.25 1578.2) rotate(-90)" text-anchor="end" font-size="27">TF10</text>
<text transform="translate(479.66 1578.2) rotate(-90)" text-anchor="end" font-size="27">TF13</text>
<text transform="translate(565.07 1578.2) rotate(-90)" text-anchor="end" font-size="27">TF16</text>
<text transform="translate(650.47 1578.2) rotate(-90)" text-anchor="end" font-size="27">TF19</text>
<text transform="translate(735.88 1578.2) rotate(-90)" text-anchor="end" font-size="27">TF22</text>
<text transform="translate(821.28 1578.2) rotate(-90)" text-anchor="end" font-size="27">TF25</text>
<text transform="translate(906.69 1578.2) rotate(-90)" text-anchor="end" font-size="27">TF28</text>
<text transform="translate(992.1 1578.2) rotate(-90)" text-anchor="end" font-size="27">TF31</text>
<text x="1126.5" y="1575.1">0.0</text>
<text x="1126.5" y="1449.94">0.2</text>
<text x="1126.5" y="1324.78">0.4</text>
<text x="1126.5" y="1199.62">0.6</text>
<text x="1126.5" y="1074.46">0.8</text>
<text x="1126.5" y="949.3">1.0</text>
</g>
<rect class="cbar" x="1083.6" y="939.4" width="32.4" height="625.8" fill="url(#gc)"/>
</g>
</svg>
<figcaption style="left:504.1px;top:805.95px;width:200px;height:96.95px;font-size:68px"><span>(c)</span></figcaption>
</figure>
<figure class="panel" style="left:1220px;top:897px;width:1220px;height:897px">
<svg class="plot" width="1220" height="780" viewBox="1220 897 1220 780">
<defs><linearGradient id="gd" x1="0" y1="1" x2="0" y2="0">
<stop offset="0%" stop-color="#f7fcf0"/>
<stop offset="5%" stop-color="#eef9e8"/>
<stop offset="10%" stop-color="#e5f5e0"/>
<stop offset="15%" stop-color="#dcf1d7"/>
<stop offset="20%" stop-color="#d4eece"/>
<stop offset="25%" stop-color="#ccebc5"/>
<stop offset="30%" stop-color="#bee6bf"/>
<stop offset="35%" stop-color="#afe0b8"/>
<stop offset="40%" stop-color="#9fdab8"/>
<stop offset="45%" stop-color="#8dd3be"/>
<stop offset="50%" stop-color="#7accc4"/>
<stop offset="55%" stop-color="#69c2ca"/>
<stop offset="60%" stop-color="#57b8d0"/>
<stop offset="65%" stop-color="#47abcf"/>
<stop offset="70%" stop-color="#389bc6"/>
<stop offset="75%" stop-color="#2a8bbe"/>
<stop offset="80%" stop-color="#1d7eb7"/>
<stop offset="85%" stop-color="#0f6faf"/>
<stop offset="90%" stop-color="#085fa3"/>
<stop offset="95%" stop-color="#084f91"/>
<stop offset="100%" stop-color="#084081"/>
</linearGradient></defs>
<g class="cells" shape-rendering="crispEdges" style="filter:blur(1.2px)">
<g transform="translate(1360.8 954) scale(14.24219 9.73594)">
<path fill="#f7fcf0" d="M0 0h64v64h-64z"/>
<path fill="#f6fbef" d="M13 3h1v1h-1zM8 4h1v1h-1zM13 6h1v1h-1zM4 8h1v1h-1zM3 13h1v1h-1zM6 13h1v1h-1zM28 24h1v1h-1zM24 28h1v1h-1z"/>
<path fill="#f3fbed" d="M62 1h1v1h-1zM24 2h1v1h-1zM62 2h1v1h-1zM24 3h2v1h-2zM13 4h1v1h-1zM8 5h1v1h-1zM8 6h1v1h-1zM62 6h1v1h-1zM5 8h2v1h-2zM14 8h1v1h-1zM18 8h2v1h-2zM22 8h1v1h-1zM28 8h1v1h-1zM24 9h1v1h-1zM13 11h1v1h-1zM4 13h1v1h-1zM11 13h1v1h-1zM24 13h1v1h-1zM34 13h1v1h-1zM38 13h2v1h-2zM54 13h1v1h-1zM59 13h1v1h-1zM61 13h1v1h-1zM8 14h1v1h-1zM8 18h1v1h-1zM8 19h1v1h-1zM8 22h1v1h-1zM2 24h2v1h-2zM9 24h1v1h-1zM13 24h1v1h-1zM57 24h1v1h-1zM3 25h1v1h-1zM58 26h1v1h-1zM8 28h1v1h-1zM62 29h1v1h-1zM62 32h1v1h-1zM13 34h1v1h-1zM13 38h1v1h-1zM13 39h1v1h-1zM62 50h1v1h-1zM13 54h1v1h-1zM24 57h1v1h-1zM26 58h1v1h-1zM13 59h1v1h-1zM13 61h1v1h-1zM1 62h2v1h-2zM6 62h1v1h-1zM29 62h1v1h-1zM32 62h1v1h-1zM50 62h1v1h-1z"/>
<path fill="#f2faeb" d="M60 1h1v1h-1zM62 3h1v1h-1zM11 8h1v1h-1zM49 8h1v1h-1zM8 11h1v1h-1zM18 13h2v1h-2zM25 13h1v1h-1zM27 13h1v1h-1zM32 13h1v1h-1zM47 13h1v1h-1zM49 13h1v1h-1zM53 17h1v1h-1zM13 18h1v1h-1zM13 19h1v1h-1zM62 22h1v1h-1zM60 23h1v1h-1zM38 24h1v1h-1zM47 24h1v1h-1zM13 25h1v1h-1zM50 26h1v1h-1zM13 27h1v1h-1zM13 32h1v1h-1zM58 35h1v1h-1zM24 38h1v1h-1zM59 38h1v1h-1zM50 44h1v1h-1zM60 44h1v1h-1zM62 45h1v1h-1zM13 47h1v1h-1zM24 47h1v1h-1zM8 49h1v1h-1zM13 49h1v1h-1zM54 49h1v1h-1zM26 50h1v1h-1zM44 50h1v1h-1zM17 53h1v1h-1zM49 54h1v1h-1zM35 58h1v1h-1zM38 59h1v1h-1zM62 59h1v1h-1zM1 60h1v1h-1zM23 60h1v1h-1zM44 60h1v1h-1zM62 61h1v1h-1zM3 62h1v1h-1zM22 62h1v1h-1zM45 62h1v1h-1zM59 62h1v1h-1zM61 62h1v1h-1z"/>
<path fill="#f0f9e9" d="M13 5h1v1h-1zM5 13h1v1h-1zM46 13h1v1h-1zM48 13h1v1h-1zM31 24h1v1h-1zM50 24h2v1h-2zM24 31h1v1h-1zM35 33h1v1h-1zM33 35h1v1h-1zM13 46h1v1h-1zM13 48h1v1h-1zM24 50h1v1h-1zM24 51h1v1h-1z"/>
<path fill="#eef9e8" d="M13 2h1v1h-1zM33 6h1v1h-1zM61 7h2v1h-2zM38 8h1v1h-1zM54 11h1v1h-1zM2 13h1v1h-1zM17 13h1v1h-1zM31 13h1v1h-1zM33 13h1v1h-1zM43 13h1v1h-1zM55 13h2v1h-2zM60 13h1v1h-1zM54 14h1v1h-1zM13 17h1v1h-1zM54 18h1v1h-1zM54 19h1v1h-1zM33 25h1v1h-1zM60 25h1v1h-1zM54 28h1v1h-1zM13 31h1v1h-1zM6 33h1v1h-1zM13 33h1v1h-1zM25 33h1v1h-1zM62 34h1v1h-1zM62 35h1v1h-1zM8 38h1v1h-1zM50 40h1v1h-1zM13 43h1v1h-1zM40 50h1v1h-1zM61 53h2v1h-2zM11 54h1v1h-1zM14 54h1v1h-1zM18 54h2v1h-2zM28 54h1v1h-1zM13 55h1v1h-1zM13 56h1v1h-1zM60 59h1v1h-1zM13 60h1v1h-1zM25 60h1v1h-1zM59 60h1v1h-1zM7 61h1v1h-1zM53 61h1v1h-1zM7 62h1v1h-1zM34 62h2v1h-2zM53 62h1v1h-1z"/>
<path fill="#ecf8e6" d="M13 9h1v1h-1zM9 13h1v1h-1zM26 13h1v1h-1zM41 13h2v1h-2zM13 26h1v1h-1zM13 41h1v1h-1zM13 42h1v1h-1zM62 51h1v1h-1zM51 62h1v1h-1z"/>
<path fill="#e9f6e3" d="M54 8h1v1h-1zM23 13h1v1h-1zM13 23h1v1h-1zM43 24h1v1h-1zM55 33h1v1h-1zM62 33h1v1h-1zM62 38h1v1h-1zM48 39h2v1h-2zM24 43h1v1h-1zM39 48h1v1h-1zM39 49h1v1h-1zM8 54h1v1h-1zM33 55h1v1h-1zM33 62h1v1h-1zM38 62h1v1h-1z"/>
<path fill="#e5f5e0" d="M39 5h1v1h-1zM34 8h1v1h-1zM46 8h2v1h-2zM54 9h1v1h-1zM39 11h1v1h-1zM39 14h1v1h-1zM62 20h1v1h-1zM24 23h1v1h-1zM23 24h1v1h-1zM46 24h1v1h-1zM8 34h1v1h-1zM61 35h1v1h-1zM5 39h1v1h-1zM11 39h1v1h-1zM14 39h1v1h-1zM62 39h1v1h-1zM62 44h1v1h-1zM8 46h1v1h-1zM24 46h1v1h-1zM60 46h1v1h-1zM8 47h1v1h-1zM54 47h1v1h-1zM9 54h1v1h-1zM47 54h1v1h-1zM46 60h1v1h-1zM35 61h1v1h-1zM20 62h1v1h-1zM39 62h1v1h-1zM44 62h1v1h-1z"/>
<path fill="#e3f4de" d="M39 32h1v1h-1zM32 39h1v1h-1zM54 48h1v1h-1zM48 54h1v1h-1z"/>
<path fill="#e1f4dc" d="M33 5h1v1h-1zM44 17h1v1h-1zM39 18h1v1h-1zM39 19h1v1h-1zM39 28h1v1h-1zM5 33h1v1h-1zM49 33h1v1h-1zM50 35h1v1h-1zM18 39h2v1h-2zM28 39h1v1h-1zM17 44h1v1h-1zM33 49h1v1h-1zM35 50h1v1h-1z"/>
<path fill="#def2d9" d="M62 52h1v1h-1zM52 62h1v1h-1z"/>
<path fill="#dcf1d7" d="M7 0h1v1h-1zM7 1h1v1h-1zM26 3h1v1h-1zM59 4h1v1h-1zM28 6h1v1h-1zM0 7h2v1h-2zM15 7h1v1h-1zM17 7h1v1h-1zM44 7h1v1h-1zM25 8h1v1h-1zM39 8h1v1h-1zM48 8h1v1h-1zM32 11h2v1h-2zM32 14h2v1h-2zM7 15h1v1h-1zM7 17h1v1h-1zM61 17h1v1h-1zM33 23h1v1h-1zM54 23h1v1h-1zM8 25h1v1h-1zM54 25h2v1h-2zM3 26h1v1h-1zM6 28h1v1h-1zM11 32h1v1h-1zM14 32h1v1h-1zM11 33h1v1h-1zM14 33h1v1h-1zM23 33h1v1h-1zM47 33h1v1h-1zM8 39h1v1h-1zM54 43h1v1h-1zM7 44h1v1h-1zM33 47h1v1h-1zM8 48h1v1h-1zM23 54h1v1h-1zM25 54h1v1h-1zM43 54h1v1h-1zM25 55h1v1h-1zM4 59h1v1h-1zM17 61h1v1h-1z"/>
<path fill="#dbf1d5" d="M11 6h1v1h-1zM12 7h1v1h-1zM6 11h1v1h-1zM7 12h1v1h-1zM56 54h1v1h-1zM59 54h1v1h-1zM54 56h1v1h-1zM60 56h1v1h-1zM54 59h1v1h-1zM56 60h1v1h-1z"/>
<path fill="#d9f0d3" d="M60 4h1v1h-1zM10 7h1v1h-1zM16 7h1v1h-1zM30 7h1v1h-1zM41 8h1v1h-1zM7 10h1v1h-1zM7 16h1v1h-1zM26 20h1v1h-1zM20 26h1v1h-1zM7 30h1v1h-1zM8 41h1v1h-1zM4 60h1v1h-1z"/>
<path fill="#d7efd1" d="M14 6h1v1h-1zM18 6h2v1h-2zM21 7h1v1h-1zM53 10h1v1h-1zM53 12h1v1h-1zM6 14h1v1h-1zM53 16h1v1h-1zM6 18h1v1h-1zM33 18h1v1h-1zM6 19h1v1h-1zM33 19h1v1h-1zM7 21h1v1h-1zM18 33h2v1h-2zM47 39h1v1h-1zM39 47h1v1h-1zM10 53h1v1h-1zM12 53h1v1h-1zM16 53h1v1h-1z"/>
<path fill="#d4eece" d="M53 0h1v1h-1zM50 1h1v1h-1zM8 2h1v1h-1zM54 2h1v1h-1zM6 5h1v1h-1zM5 6h1v1h-1zM47 6h1v1h-1zM35 7h2v1h-2zM2 8h1v1h-1zM31 8h1v1h-1zM42 8h2v1h-2zM60 9h1v1h-1zM53 15h1v1h-1zM51 17h2v1h-2zM32 18h1v1h-1zM32 19h1v1h-1zM53 21h1v1h-1zM27 24h1v1h-1zM42 24h1v1h-1zM62 24h1v1h-1zM38 25h1v1h-1zM33 26h1v1h-1zM45 26h1v1h-1zM51 26h1v1h-1zM24 27h1v1h-1zM32 28h2v1h-2zM53 30h1v1h-1zM8 31h1v1h-1zM18 32h2v1h-2zM28 32h1v1h-1zM47 32h1v1h-1zM26 33h1v1h-1zM28 33h1v1h-1zM46 33h1v1h-1zM59 33h1v1h-1zM7 35h1v1h-1zM7 36h1v1h-1zM53 36h1v1h-1zM25 38h1v1h-1zM8 42h1v1h-1zM24 42h1v1h-1zM8 43h1v1h-1zM60 43h1v1h-1zM53 44h1v1h-1zM26 45h1v1h-1zM33 46h1v1h-1zM54 46h1v1h-1zM6 47h1v1h-1zM32 47h1v1h-1zM60 47h1v1h-1zM59 48h1v1h-1zM1 50h1v1h-1zM17 51h1v1h-1zM26 51h1v1h-1zM17 52h1v1h-1zM0 53h1v1h-1zM15 53h1v1h-1zM21 53h1v1h-1zM30 53h1v1h-1zM36 53h1v1h-1zM44 53h1v1h-1zM2 54h1v1h-1zM46 54h1v1h-1zM33 59h1v1h-1zM48 59h1v1h-1zM9 60h1v1h-1zM43 60h1v1h-1zM47 60h1v1h-1zM24 62h1v1h-1z"/>
<path fill="#d3eecc" d="M41 33h1v1h-1zM33 41h1v1h-1zM60 48h1v1h-1zM61 50h1v1h-1zM48 60h1v1h-1zM50 61h1v1h-1z"/>
<path fill="#d1edca" d="M50 0h1v1h-1zM53 1h1v1h-1zM60 2h1v1h-1zM9 8h1v1h-1zM8 9h1v1h-1zM45 10h1v1h-1zM50 10h1v1h-1zM58 10h1v1h-1zM60 11h1v1h-1zM50 12h1v1h-1zM60 14h1v1h-1zM50 15h1v1h-1zM45 16h1v1h-1zM50 16h1v1h-1zM45 17h1v1h-1zM58 17h1v1h-1zM45 21h1v1h-1zM34 24h1v1h-1zM41 24h1v1h-1zM50 30h1v1h-1zM54 31h1v1h-1zM60 31h1v1h-1zM48 32h1v1h-1zM59 32h1v1h-1zM24 34h1v1h-1zM24 41h1v1h-1zM10 45h1v1h-1zM16 45h2v1h-2zM21 45h1v1h-1zM32 48h1v1h-1zM60 49h1v1h-1zM0 50h1v1h-1zM10 50h1v1h-1zM12 50h1v1h-1zM15 50h2v1h-2zM30 50h1v1h-1zM1 53h1v1h-1zM31 54h1v1h-1zM10 58h1v1h-1zM17 58h1v1h-1zM32 59h1v1h-1zM2 60h1v1h-1zM11 60h1v1h-1zM14 60h1v1h-1zM31 60h1v1h-1zM49 60h1v1h-1z"/>
<path fill="#ceecc7" d="M62 54h1v1h-1zM54 62h1v1h-1z"/>
<path fill="#ccebc5" d="M58 0h1v1h-1zM35 1h1v1h-1zM25 4h1v1h-1zM32 5h1v1h-1zM60 5h1v1h-1zM49 6h1v1h-1zM59 6h1v1h-1zM22 7h1v1h-1zM27 8h1v1h-1zM35 8h1v1h-1zM58 12h1v1h-1zM58 15h1v1h-1zM58 16h1v1h-1zM60 18h1v1h-1zM60 19h1v1h-1zM44 21h1v1h-1zM50 21h1v1h-1zM58 21h1v1h-1zM7 22h1v1h-1zM50 22h1v1h-1zM53 22h1v1h-1zM58 22h1v1h-1zM25 24h1v1h-1zM4 25h1v1h-1zM24 25h1v1h-1zM32 25h1v1h-1zM8 27h1v1h-1zM60 28h1v1h-1zM58 30h1v1h-1zM5 32h1v1h-1zM25 32h1v1h-1zM48 33h1v1h-1zM60 34h1v1h-1zM1 35h1v1h-1zM8 35h1v1h-1zM53 35h1v1h-1zM21 44h1v1h-1zM33 48h1v1h-1zM6 49h1v1h-1zM21 50h2v1h-2zM22 53h1v1h-1zM35 53h1v1h-1zM57 53h1v1h-1zM53 57h1v1h-1zM0 58h1v1h-1zM12 58h1v1h-1zM15 58h2v1h-2zM21 58h2v1h-2zM30 58h1v1h-1zM6 59h1v1h-1zM5 60h1v1h-1zM18 60h2v1h-2zM28 60h1v1h-1zM34 60h1v1h-1z"/>
<path fill="#c9eac4" d="M20 17h1v1h-1zM17 20h1v1h-1zM34 33h1v1h-1zM38 33h2v1h-2zM33 34h1v1h-1zM33 38h1v1h-1zM33 39h1v1h-1z"/>
<path fill="#c6e9c2" d="M17 1h1v1h-1zM37 7h1v1h-1zM57 7h2v1h-2zM26 8h1v1h-1zM56 8h1v1h-1zM45 12h1v1h-1zM1 17h1v1h-1zM39 25h1v1h-1zM8 26h1v1h-1zM54 27h1v1h-1zM60 27h1v1h-1zM45 30h1v1h-1zM7 37h1v1h-1zM53 37h1v1h-1zM25 39h1v1h-1zM12 45h1v1h-1zM30 45h1v1h-1zM55 46h1v1h-1zM59 47h1v1h-1zM37 53h1v1h-1zM58 53h1v1h-1zM27 54h1v1h-1zM60 54h1v1h-1zM46 55h1v1h-1zM8 56h1v1h-1zM7 57h1v1h-1zM7 58h1v1h-1zM53 58h1v1h-1zM47 59h1v1h-1zM27 60h1v1h-1zM54 60h1v1h-1z"/>
<path fill="#c4e8c1" d="M25 6h1v1h-1zM48 6h1v1h-1zM39 9h1v1h-1zM44 10h1v1h-1zM59 11h1v1h-1zM59 14h1v1h-1zM59 18h1v1h-1zM59 19h1v1h-1zM38 23h1v1h-1zM6 25h1v1h-1zM59 28h1v1h-1zM23 38h1v1h-1zM9 39h1v1h-1zM56 39h1v1h-1zM10 44h1v1h-1zM61 44h1v1h-1zM6 48h1v1h-1zM58 50h1v1h-1zM39 56h1v1h-1zM50 58h1v1h-1zM11 59h1v1h-1zM14 59h1v1h-1zM18 59h2v1h-2zM28 59h1v1h-1zM44 61h1v1h-1z"/>
<path fill="#c0e6c0" d="M29 26h1v1h-1zM26 29h1v1h-1zM43 39h1v1h-1zM39 43h1v1h-1zM62 60h1v1h-1zM60 62h1v1h-1z"/>
<path fill="#bee6bf" d="M10 1h1v1h-1zM12 1h1v1h-1zM16 1h1v1h-1zM21 1h1v1h-1zM26 1h1v1h-1zM30 1h1v1h-1zM4 2h1v1h-1zM6 2h1v1h-1zM39 2h1v1h-1zM55 2h1v1h-1zM61 3h1v1h-1zM2 4h1v1h-1zM5 4h1v1h-1zM9 4h1v1h-1zM11 4h1v1h-1zM14 4h1v1h-1zM18 4h2v1h-2zM27 4h2v1h-2zM31 4h1v1h-1zM39 4h1v1h-1zM43 4h1v1h-1zM56 4h1v1h-1zM4 5h1v1h-1zM2 6h1v1h-1zM9 6h1v1h-1zM43 6h1v1h-1zM56 6h1v1h-1zM59 8h2v1h-2zM4 9h1v1h-1zM6 9h1v1h-1zM55 9h1v1h-1zM1 10h1v1h-1zM61 10h1v1h-1zM4 11h1v1h-1zM1 12h1v1h-1zM4 14h1v1h-1zM1 16h1v1h-1zM44 16h1v1h-1zM61 16h1v1h-1zM4 18h1v1h-1zM4 19h1v1h-1zM1 21h1v1h-1zM61 21h1v1h-1zM55 23h1v1h-1zM59 23h1v1h-1zM32 24h1v1h-1zM59 24h1v1h-1zM1 26h1v1h-1zM52 26h1v1h-1zM4 27h1v1h-1zM33 27h1v1h-1zM55 27h1v1h-1zM4 28h1v1h-1zM1 30h1v1h-1zM44 30h1v1h-1zM61 30h1v1h-1zM4 31h1v1h-1zM32 31h2v1h-2zM39 31h1v1h-1zM55 31h1v1h-1zM24 32h1v1h-1zM31 32h1v1h-1zM49 32h1v1h-1zM54 32h1v1h-1zM27 33h1v1h-1zM31 33h1v1h-1zM42 33h2v1h-2zM54 33h1v1h-1zM38 34h1v1h-1zM54 34h2v1h-2zM50 36h1v1h-1zM58 36h1v1h-1zM34 38h1v1h-1zM46 38h1v1h-1zM54 38h1v1h-1zM2 39h1v1h-1zM4 39h1v1h-1zM31 39h1v1h-1zM46 39h1v1h-1zM45 40h1v1h-1zM54 41h1v1h-1zM60 41h1v1h-1zM33 42h1v1h-1zM4 43h1v1h-1zM6 43h1v1h-1zM33 43h1v1h-1zM55 43h1v1h-1zM16 44h1v1h-1zM30 44h1v1h-1zM57 44h1v1h-1zM40 45h1v1h-1zM58 45h1v1h-1zM38 46h2v1h-2zM55 47h1v1h-1zM32 49h1v1h-1zM36 50h1v1h-1zM26 52h1v1h-1zM58 52h1v1h-1zM32 54h3v1h-3zM38 54h1v1h-1zM41 54h1v1h-1zM2 55h1v1h-1zM9 55h1v1h-1zM23 55h1v1h-1zM27 55h1v1h-1zM31 55h1v1h-1zM34 55h1v1h-1zM43 55h1v1h-1zM47 55h1v1h-1zM56 55h1v1h-1zM4 56h1v1h-1zM6 56h1v1h-1zM55 56h1v1h-1zM44 57h1v1h-1zM36 58h1v1h-1zM45 58h1v1h-1zM52 58h1v1h-1zM8 59h1v1h-1zM23 59h2v1h-2zM8 60h1v1h-1zM41 60h1v1h-1zM3 61h1v1h-1zM10 61h1v1h-1zM16 61h1v1h-1zM21 61h1v1h-1zM30 61h1v1h-1z"/>
<path fill="#b9e3bc" d="M55 5h1v1h-1zM39 6h1v1h-1zM39 7h1v1h-1zM44 26h1v1h-1zM6 39h2v1h-2zM41 39h1v1h-1zM39 41h1v1h-1zM26 44h1v1h-1zM58 44h1v1h-1zM61 45h1v1h-1zM5 55h1v1h-1zM44 58h1v1h-1zM45 61h1v1h-1z"/>
<path fill="#b5e2bb" d="M61 0h1v1h-1zM32 2h2v1h-2zM38 2h1v1h-1zM17 3h1v1h-1zM47 4h3v1h-3zM59 5h1v1h-1zM62 8h1v1h-1zM33 9h1v1h-1zM38 9h1v1h-1zM55 11h1v1h-1zM44 12h1v1h-1zM61 12h1v1h-1zM38 14h1v1h-1zM55 14h1v1h-1zM61 15h1v1h-1zM20 16h1v1h-1zM3 17h1v1h-1zM50 17h1v1h-1zM55 18h1v1h-1zM55 19h1v1h-1zM16 20h1v1h-1zM39 23h1v1h-1zM61 26h1v1h-1zM55 28h1v1h-1zM58 29h1v1h-1zM2 32h1v1h-1zM34 32h1v1h-1zM46 32h1v1h-1zM2 33h1v1h-1zM9 33h1v1h-1zM56 33h1v1h-1zM32 34h1v1h-1zM39 34h1v1h-1zM61 36h1v1h-1zM50 37h1v1h-1zM2 38h1v1h-1zM9 38h1v1h-1zM14 38h1v1h-1zM43 38h1v1h-1zM47 38h1v1h-1zM56 38h1v1h-1zM23 39h1v1h-1zM34 39h1v1h-1zM42 39h1v1h-1zM53 39h1v1h-1zM58 40h1v1h-1zM61 40h1v1h-1zM39 42h1v1h-1zM60 42h1v1h-1zM38 43h1v1h-1zM12 44h1v1h-1zM32 46h1v1h-1zM4 47h1v1h-1zM38 47h1v1h-1zM4 48h1v1h-1zM4 49h1v1h-1zM17 50h1v1h-1zM37 50h1v1h-1zM51 50h3v1h-3zM57 50h1v1h-1zM50 51h1v1h-1zM50 52h1v1h-1zM39 53h1v1h-1zM50 53h1v1h-1zM11 55h1v1h-1zM14 55h1v1h-1zM18 55h2v1h-2zM28 55h1v1h-1zM33 56h1v1h-1zM38 56h1v1h-1zM50 57h1v1h-1zM29 58h1v1h-1zM40 58h1v1h-1zM5 59h1v1h-1zM42 60h1v1h-1zM0 61h1v1h-1zM12 61h1v1h-1zM15 61h1v1h-1zM26 61h1v1h-1zM36 61h1v1h-1zM40 61h1v1h-1zM63 61h1v1h-1zM8 62h1v1h-1zM61 63h1v1h-1z"/>
<path fill="#b2e1b9" d="M29 17h1v1h-1zM17 29h1v1h-1zM44 35h2v1h-2zM35 44h1v1h-1zM35 45h1v1h-1zM61 51h1v1h-1zM61 52h1v1h-1zM51 61h2v1h-2z"/>
<path fill="#afe0b8" d="M45 0h1v1h-1zM10 3h1v1h-1zM16 3h1v1h-1zM21 3h1v1h-1zM24 4h1v1h-1zM38 4h1v1h-1zM38 5h1v1h-1zM31 6h1v1h-1zM34 6h1v1h-1zM52 7h1v1h-1zM32 9h1v1h-1zM3 10h1v1h-1zM20 10h1v1h-1zM38 11h1v1h-1zM45 15h1v1h-1zM3 16h1v1h-1zM29 16h1v1h-1zM51 16h1v1h-1zM38 18h1v1h-1zM38 19h1v1h-1zM10 20h1v1h-1zM21 20h1v1h-1zM30 20h1v1h-1zM3 21h1v1h-1zM20 21h1v1h-1zM51 21h1v1h-1zM61 22h1v1h-1zM32 23h1v1h-1zM4 24h1v1h-1zM38 27h2v1h-2zM38 28h1v1h-1zM16 29h1v1h-1zM20 30h1v1h-1zM6 31h1v1h-1zM38 31h1v1h-1zM9 32h1v1h-1zM23 32h1v1h-1zM56 32h1v1h-1zM6 34h1v1h-1zM4 38h2v1h-2zM11 38h1v1h-1zM18 38h2v1h-2zM27 38h2v1h-2zM31 38h1v1h-1zM49 38h1v1h-1zM27 39h1v1h-1zM54 39h1v1h-1zM0 45h1v1h-1zM15 45h1v1h-1zM50 45h1v1h-1zM53 45h1v1h-1zM38 49h1v1h-1zM45 50h1v1h-1zM63 50h1v1h-1zM16 51h1v1h-1zM21 51h1v1h-1zM7 52h1v1h-1zM45 53h1v1h-1zM39 54h1v1h-1zM32 56h1v1h-1zM63 58h1v1h-1zM22 61h1v1h-1zM50 63h1v1h-1zM58 63h1v1h-1z"/>
<path fill="#acdfb7" d="M1 0h1v1h-1zM0 1h1v1h-1zM12 3h1v1h-1zM3 12h1v1h-1zM29 21h1v1h-1zM21 29h1v1h-1z"/>
<path fill="#aadeb6" d="M44 0h1v1h-1zM30 3h1v1h-1zM23 6h1v1h-1zM27 6h1v1h-1zM60 6h1v1h-1zM29 10h1v1h-1zM51 10h1v1h-1zM44 15h1v1h-1zM52 16h1v1h-1zM52 21h1v1h-1zM6 23h1v1h-1zM54 24h1v1h-1zM6 27h1v1h-1zM10 29h1v1h-1zM30 29h1v1h-1zM61 29h1v1h-1zM3 30h1v1h-1zM29 30h1v1h-1zM51 30h1v1h-1zM0 44h1v1h-1zM15 44h1v1h-1zM55 48h1v1h-1zM55 49h1v1h-1zM10 51h1v1h-1zM30 51h1v1h-1zM16 52h1v1h-1zM21 52h1v1h-1zM24 54h1v1h-1zM55 54h1v1h-1zM48 55h2v1h-2zM54 55h1v1h-1zM6 60h1v1h-1zM29 61h1v1h-1z"/>
<path fill="#a6dcb6" d="M15 1h1v1h-1zM34 4h1v1h-1zM46 4h1v1h-1zM46 6h1v1h-1zM52 10h1v1h-1zM20 12h1v1h-1zM1 15h1v1h-1zM63 17h1v1h-1zM12 20h1v1h-1zM63 26h1v1h-1zM43 32h1v1h-1zM4 34h1v1h-1zM41 38h1v1h-1zM38 41h1v1h-1zM32 43h1v1h-1zM4 46h1v1h-1zM6 46h1v1h-1zM59 49h1v1h-1zM10 52h1v1h-1zM49 59h1v1h-1zM17 63h1v1h-1zM26 63h1v1h-1z"/>
<path fill="#9fdab8" d="M57 1h1v1h-1zM58 3h1v1h-1zM29 12h1v1h-1zM51 12h1v1h-1zM35 20h1v1h-1zM12 29h1v1h-1zM40 29h1v1h-1zM53 29h1v1h-1zM52 30h1v1h-1zM38 32h1v1h-1zM60 33h1v1h-1zM20 35h1v1h-1zM32 38h1v1h-1zM29 40h1v1h-1zM59 42h1v1h-1zM59 46h1v1h-1zM12 51h1v1h-1zM30 52h1v1h-1zM53 52h1v1h-1zM29 53h1v1h-1zM52 53h1v1h-1zM1 57h1v1h-1zM58 57h1v1h-1zM3 58h1v1h-1zM57 58h1v1h-1zM42 59h1v1h-1zM46 59h1v1h-1zM33 60h1v1h-1z"/>
<path fill="#9cd9b9" d="M59 56h1v1h-1zM56 59h1v1h-1z"/>
<path fill="#98d7ba" d="M61 1h1v1h-1zM35 3h1v1h-1zM40 3h1v1h-1zM50 3h1v1h-1zM24 6h1v1h-1zM45 7h1v1h-1zM63 7h1v1h-1zM52 12h1v1h-1zM22 17h1v1h-1zM35 17h1v1h-1zM61 20h1v1h-1zM17 22h1v1h-1zM6 24h1v1h-1zM59 31h1v1h-1zM60 32h1v1h-1zM3 35h1v1h-1zM17 35h1v1h-1zM45 36h1v1h-1zM59 39h1v1h-1zM3 40h1v1h-1zM55 41h1v1h-1zM54 42h1v1h-1zM7 45h1v1h-1zM36 45h1v1h-1zM3 50h1v1h-1zM12 52h1v1h-1zM63 53h1v1h-1zM42 54h1v1h-1zM41 55h1v1h-1zM31 59h1v1h-1zM39 59h1v1h-1zM32 60h1v1h-1zM1 61h1v1h-1zM20 61h1v1h-1zM7 63h1v1h-1zM53 63h1v1h-1z"/>
<path fill="#94d5bc" d="M54 4h2v1h-2zM4 54h1v1h-1zM4 55h1v1h-1z"/>
<path fill="#91d4bd" d="M44 37h1v1h-1zM42 38h1v1h-1zM38 42h1v1h-1zM37 44h1v1h-1z"/>
<path fill="#8dd3be" d="M36 1h1v1h-1zM38 6h1v1h-1zM59 9h1v1h-1zM26 17h1v1h-1zM50 20h1v1h-1zM53 20h1v1h-1zM17 26h1v1h-1zM32 27h1v1h-1zM35 29h1v1h-1zM27 32h1v1h-1zM29 35h1v1h-1zM1 36h1v1h-1zM44 36h1v1h-1zM61 37h1v1h-1zM6 38h1v1h-1zM48 38h1v1h-1zM36 44h1v1h-1zM38 48h1v1h-1zM20 50h1v1h-1zM20 53h1v1h-1zM61 57h1v1h-1zM9 59h1v1h-1zM37 61h1v1h-1zM57 61h1v1h-1z"/>
<path fill="#8ad2bf" d="M44 40h1v1h-1zM40 44h1v1h-1z"/>
<path fill="#86d0c0" d="M20 0h1v1h-1zM37 1h1v1h-1zM53 3h1v1h-1zM29 7h1v1h-1zM20 15h1v1h-1zM0 20h1v1h-1zM15 20h1v1h-1zM58 20h1v1h-1zM37 26h1v1h-1zM7 29h1v1h-1zM1 37h1v1h-1zM26 37h1v1h-1zM52 40h1v1h-1zM59 41h1v1h-1zM40 52h1v1h-1zM3 53h1v1h-1zM20 58h1v1h-1zM41 59h1v1h-1z"/>
<path fill="#83cfc1" d="M58 1h1v1h-1zM59 2h1v1h-1zM41 14h1v1h-1zM14 41h1v1h-1zM59 43h1v1h-1zM1 58h1v1h-1zM2 59h1v1h-1zM43 59h1v1h-1z"/>
<path fill="#7accc4" d="M3 0h1v1h-1zM51 0h1v1h-1zM40 1h1v1h-1zM0 3h1v1h-1zM7 3h1v1h-1zM15 3h1v1h-1zM23 4h1v1h-1zM32 4h1v1h-1zM3 7h1v1h-1zM20 7h1v1h-1zM50 7h2v1h-2zM41 11h2v1h-2zM42 14h1v1h-1zM3 15h1v1h-1zM41 18h2v1h-2zM41 19h2v1h-2zM7 20h1v1h-1zM4 23h1v1h-1zM57 26h1v1h-1zM41 28h2v1h-2zM4 32h1v1h-1zM51 35h1v1h-1zM45 37h1v1h-1zM58 37h1v1h-1zM1 40h1v1h-1zM51 40h1v1h-1zM11 41h1v1h-1zM18 41h2v1h-2zM28 41h1v1h-1zM11 42h1v1h-1zM14 42h1v1h-1zM18 42h2v1h-2zM28 42h1v1h-1zM55 42h1v1h-1zM37 45h1v1h-1zM57 45h1v1h-1zM7 50h1v1h-1zM0 51h1v1h-1zM7 51h1v1h-1zM35 51h1v1h-1zM40 51h1v1h-1zM58 51h1v1h-1zM42 55h1v1h-1zM60 55h1v1h-1zM26 57h1v1h-1zM45 57h1v1h-1zM37 58h1v1h-1zM51 58h1v1h-1zM55 60h1v1h-1z"/>
<path fill="#73c8c7" d="M29 0h1v1h-1zM33 8h1v1h-1zM23 11h1v1h-1zM23 14h1v1h-1zM29 15h1v1h-1zM40 20h1v1h-1zM11 23h1v1h-1zM14 23h1v1h-1zM25 23h1v1h-1zM23 25h1v1h-1zM35 26h1v1h-1zM0 29h1v1h-1zM15 29h1v1h-1zM8 33h1v1h-1zM26 35h1v1h-1zM52 35h1v1h-1zM20 40h1v1h-1zM35 52h1v1h-1z"/>
<path fill="#6cc4c9" d="M23 19h1v1h-1zM19 23h1v1h-1z"/>
<path fill="#69c2ca" d="M22 1h1v1h-1zM41 4h2v1h-2zM54 6h1v1h-1zM24 7h1v1h-1zM51 15h1v1h-1zM63 16h1v1h-1zM23 18h1v1h-1zM46 19h1v1h-1zM1 22h1v1h-1zM18 23h1v1h-1zM28 23h1v1h-1zM7 24h1v1h-1zM48 25h1v1h-1zM23 28h1v1h-1zM46 28h1v1h-1zM50 29h1v1h-1zM55 32h1v1h-1zM4 41h1v1h-1zM4 42h1v1h-1zM63 44h1v1h-1zM19 46h1v1h-1zM28 46h1v1h-1zM25 48h1v1h-1zM29 50h1v1h-1zM15 51h1v1h-1zM53 51h1v1h-1zM51 53h1v1h-1zM6 54h1v1h-1zM32 55h1v1h-1zM16 63h1v1h-1zM44 63h1v1h-1z"/>
<path fill="#65c0cb" d="M47 41h1v1h-1zM41 47h1v1h-1z"/>
<path fill="#62becc" d="M52 0h1v1h-1zM63 10h1v1h-1zM46 11h1v1h-1zM46 14h1v1h-1zM63 21h1v1h-1zM44 29h1v1h-1zM29 44h1v1h-1zM11 46h1v1h-1zM14 46h1v1h-1zM0 52h1v1h-1zM10 63h1v1h-1zM21 63h1v1h-1z"/>
<path fill="#5ebcce" d="M37 3h1v1h-1zM25 11h1v1h-1zM25 14h1v1h-1zM37 16h1v1h-1zM40 17h1v1h-1zM46 18h1v1h-1zM11 25h1v1h-1zM14 25h1v1h-1zM28 25h1v1h-1zM47 25h1v1h-1zM28 27h1v1h-1zM25 28h1v1h-1zM27 28h1v1h-1zM3 37h1v1h-1zM16 37h1v1h-1zM17 40h1v1h-1zM18 46h1v1h-1zM25 47h1v1h-1zM61 58h1v1h-1zM58 61h1v1h-1z"/>
<path fill="#5abacf" d="M25 19h1v1h-1zM19 25h1v1h-1zM47 42h1v1h-1zM42 47h1v1h-1z"/>
<path fill="#57b8d0" d="M63 1h1v1h-1zM36 3h1v1h-1zM41 6h2v1h-2zM55 6h1v1h-1zM17 10h1v1h-1zM22 10h1v1h-1zM35 10h1v1h-1zM37 10h1v1h-1zM27 11h1v1h-1zM27 14h1v1h-1zM17 16h1v1h-1zM22 16h1v1h-1zM35 16h1v1h-1zM40 16h1v1h-1zM10 17h1v1h-1zM16 17h1v1h-1zM25 18h1v1h-1zM27 19h1v1h-1zM10 22h1v1h-1zM16 22h1v1h-1zM26 22h1v1h-1zM44 22h2v1h-2zM18 25h1v1h-1zM22 26h1v1h-1zM40 26h1v1h-1zM11 27h1v1h-1zM14 27h1v1h-1zM19 27h1v1h-1zM63 30h1v1h-1zM42 32h1v1h-1zM59 34h1v1h-1zM10 35h1v1h-1zM16 35h1v1h-1zM3 36h1v1h-1zM10 37h1v1h-1zM16 40h1v1h-1zM26 40h1v1h-1zM6 41h1v1h-1zM6 42h1v1h-1zM32 42h1v1h-1zM22 44h1v1h-1zM45 44h1v1h-1zM22 45h1v1h-1zM44 45h1v1h-1zM6 55h1v1h-1zM34 59h1v1h-1zM1 63h1v1h-1zM30 63h1v1h-1z"/>
<path fill="#53b6d1" d="M37 35h1v1h-1zM35 37h1v1h-1z"/>
<path fill="#50b4d2" d="M17 0h1v1h-1zM29 1h1v1h-1zM57 3h1v1h-1zM6 4h1v1h-1zM4 6h1v1h-1zM40 10h1v1h-1zM43 11h1v1h-1zM48 11h1v1h-1zM43 14h1v1h-1zM48 14h1v1h-1zM17 15h1v1h-1zM52 15h1v1h-1zM0 17h1v1h-1zM15 17h1v1h-1zM21 17h1v1h-1zM30 17h1v1h-1zM36 17h2v1h-2zM57 17h1v1h-1zM27 18h1v1h-1zM36 20h2v1h-2zM17 21h1v1h-1zM22 21h1v1h-1zM37 21h1v1h-1zM21 22h1v1h-1zM30 22h1v1h-1zM47 23h1v1h-1zM53 24h1v1h-1zM42 25h1v1h-1zM18 27h1v1h-1zM47 27h2v1h-2zM43 28h1v1h-1zM48 28h1v1h-1zM1 29h1v1h-1zM17 30h1v1h-1zM22 30h1v1h-1zM35 30h1v1h-1zM37 30h1v1h-1zM40 30h1v1h-1zM30 35h1v1h-1zM17 36h1v1h-1zM20 36h1v1h-1zM17 37h1v1h-1zM20 37h2v1h-2zM30 37h1v1h-1zM10 40h1v1h-1zM30 40h1v1h-1zM25 42h1v1h-1zM11 43h1v1h-1zM14 43h1v1h-1zM28 43h1v1h-1zM63 45h1v1h-1zM23 47h1v1h-1zM27 47h1v1h-1zM11 48h1v1h-1zM14 48h1v1h-1zM27 48h2v1h-2zM15 52h1v1h-1zM24 53h1v1h-1zM3 57h1v1h-1zM17 57h1v1h-1zM45 63h1v1h-1z"/>
<path fill="#4cb1d2" d="M41 5h2v1h-2zM40 21h1v1h-1zM21 40h1v1h-1zM5 41h1v1h-1zM5 42h1v1h-1z"/>
<path fill="#4aafd1" d="M26 16h1v1h-1zM16 26h1v1h-1zM47 46h1v1h-1zM46 47h1v1h-1zM57 52h1v1h-1zM52 57h1v1h-1z"/>
<path fill="#47abcf" d="M16 0h1v1h-1zM3 1h1v1h-1zM45 1h1v1h-1zM11 2h1v1h-1zM14 2h1v1h-1zM28 2h1v1h-1zM1 3h1v1h-1zM25 5h1v1h-1zM46 5h1v1h-1zM32 6h1v1h-1zM11 9h1v1h-1zM14 9h1v1h-1zM28 9h1v1h-1zM26 10h1v1h-1zM57 10h1v1h-1zM2 11h1v1h-1zM9 11h1v1h-1zM31 11h1v1h-1zM56 11h1v1h-1zM17 12h1v1h-1zM63 12h1v1h-1zM2 14h1v1h-1zM9 14h1v1h-1zM56 14h1v1h-1zM16 15h1v1h-1zM0 16h1v1h-1zM15 16h1v1h-1zM57 16h1v1h-1zM12 17h1v1h-1zM43 18h1v1h-1zM48 18h1v1h-1zM56 18h1v1h-1zM31 19h1v1h-1zM43 19h1v1h-1zM48 19h1v1h-1zM56 19h1v1h-1zM57 20h1v1h-1zM26 21h1v1h-1zM35 21h1v1h-1zM57 21h1v1h-1zM40 22h1v1h-1zM27 23h1v1h-1zM39 24h1v1h-1zM5 25h1v1h-1zM10 26h1v1h-1zM21 26h1v1h-1zM30 26h1v1h-1zM36 26h1v1h-1zM23 27h1v1h-1zM59 27h1v1h-1zM2 28h1v1h-1zM9 28h1v1h-1zM31 28h1v1h-1zM26 30h1v1h-1zM11 31h1v1h-1zM19 31h1v1h-1zM28 31h1v1h-1zM6 32h1v1h-1zM21 35h1v1h-1zM40 35h1v1h-1zM26 36h1v1h-1zM51 36h1v1h-1zM52 37h1v1h-1zM24 39h1v1h-1zM22 40h1v1h-1zM35 40h1v1h-1zM48 41h1v1h-1zM18 43h2v1h-2zM47 43h1v1h-1zM51 44h1v1h-1zM1 45h1v1h-1zM5 46h1v1h-1zM43 47h1v1h-1zM48 47h1v1h-1zM18 48h2v1h-2zM41 48h1v1h-1zM47 48h1v1h-1zM36 51h1v1h-1zM44 51h1v1h-1zM57 51h1v1h-1zM37 52h1v1h-1zM11 56h1v1h-1zM14 56h1v1h-1zM18 56h2v1h-2zM10 57h1v1h-1zM16 57h1v1h-1zM20 57h2v1h-2zM51 57h1v1h-1zM27 59h1v1h-1zM12 63h1v1h-1z"/>
<path fill="#45a8cd" d="M31 18h1v1h-1zM18 31h1v1h-1z"/>
<path fill="#41a5cb" d="M26 0h1v1h-1zM44 3h1v1h-1zM48 5h1v1h-1zM22 12h1v1h-1zM31 14h1v1h-1zM26 15h1v1h-1zM36 16h1v1h-1zM44 20h1v1h-1zM12 22h1v1h-1zM41 25h1v1h-1zM0 26h1v1h-1zM15 26h1v1h-1zM56 28h1v1h-1zM37 29h1v1h-1zM57 30h1v1h-1zM14 31h1v1h-1zM41 32h1v1h-1zM16 36h1v1h-1zM29 37h1v1h-1zM51 37h1v1h-1zM25 41h1v1h-1zM32 41h1v1h-1zM3 44h1v1h-1zM20 44h1v1h-1zM51 45h1v1h-1zM5 48h1v1h-1zM37 51h1v1h-1zM45 51h1v1h-1zM28 56h1v1h-1zM30 57h1v1h-1z"/>
<path fill="#3ea1c9" d="M51 1h1v1h-1zM19 2h1v1h-1zM23 5h1v1h-1zM19 9h1v1h-1zM36 10h1v1h-1zM26 12h1v1h-1zM35 12h1v1h-1zM37 12h1v1h-1zM2 19h1v1h-1zM9 19h1v1h-1zM5 23h1v1h-1zM34 23h1v1h-1zM46 25h1v1h-1zM12 26h1v1h-1zM36 29h1v1h-1zM57 29h1v1h-1zM23 34h1v1h-1zM48 34h1v1h-1zM12 35h1v1h-1zM10 36h1v1h-1zM29 36h1v1h-1zM12 37h1v1h-1zM49 41h1v1h-1zM48 42h2v1h-2zM25 46h1v1h-1zM56 47h1v1h-1zM34 48h1v1h-1zM42 48h1v1h-1zM41 49h2v1h-2zM1 51h1v1h-1zM47 56h1v1h-1zM29 57h1v1h-1z"/>
<path fill="#389bc6" d="M10 0h1v1h-1zM21 0h1v1h-1zM30 0h1v1h-1zM20 1h1v1h-1zM18 2h1v1h-1zM18 9h1v1h-1zM0 10h1v1h-1zM15 10h1v1h-1zM40 12h1v1h-1zM10 15h1v1h-1zM21 15h1v1h-1zM30 15h1v1h-1zM2 18h1v1h-1zM9 18h1v1h-1zM1 20h1v1h-1zM22 20h1v1h-1zM45 20h1v1h-1zM0 21h1v1h-1zM15 21h1v1h-1zM20 22h1v1h-1zM0 30h1v1h-1zM15 30h1v1h-1zM36 30h1v1h-1zM30 36h1v1h-1zM12 40h1v1h-1zM52 44h1v1h-1zM20 45h1v1h-1zM44 52h1v1h-1z"/>
<path fill="#3699c5" d="M49 48h1v1h-1zM48 49h1v1h-1z"/>
<path fill="#3395c3" d="M52 1h1v1h-1zM22 3h1v1h-1zM27 5h1v1h-1zM25 9h1v1h-1zM34 11h1v1h-1zM15 12h1v1h-1zM34 14h1v1h-1zM12 15h1v1h-1zM36 21h1v1h-1zM3 22h1v1h-1zM48 23h2v1h-2zM9 25h1v1h-1zM31 25h1v1h-1zM49 25h1v1h-1zM56 25h1v1h-1zM59 25h1v1h-1zM5 27h1v1h-1zM25 31h1v1h-1zM11 34h1v1h-1zM14 34h1v1h-1zM47 34h1v1h-1zM21 36h1v1h-1zM52 36h1v1h-1zM40 37h1v1h-1zM55 38h1v1h-1zM37 40h1v1h-1zM52 45h1v1h-1zM34 47h1v1h-1zM23 48h1v1h-1zM23 49h1v1h-1zM25 49h1v1h-1zM1 52h1v1h-1zM36 52h1v1h-1zM45 52h1v1h-1zM38 55h1v1h-1zM25 56h1v1h-1zM25 59h1v1h-1z"/>
<path fill="#2d8fbf" d="M12 0h1v1h-1zM0 12h1v1h-1z"/>
<path fill="#2a8bbe" d="M25 2h1v1h-1zM45 3h1v1h-1zM31 5h1v1h-1zM47 9h1v1h-1zM57 12h1v1h-1zM34 18h1v1h-1zM34 19h1v1h-1zM51 22h1v1h-1zM2 25h1v1h-1zM46 27h1v1h-1zM34 28h1v1h-1zM5 31h1v1h-1zM47 31h1v1h-1zM18 34h2v1h-2zM28 34h1v1h-1zM46 34h1v1h-1zM57 35h1v1h-1zM3 45h1v1h-1zM27 46h1v1h-1zM34 46h1v1h-1zM9 47h1v1h-1zM31 47h1v1h-1zM22 51h1v1h-1zM12 57h1v1h-1zM35 57h1v1h-1z"/>
<path fill="#2586bb" d="M63 0h1v1h-1zM47 2h1v1h-1zM56 5h1v1h-1zM49 27h1v1h-1zM41 34h2v1h-2zM34 41h1v1h-1zM34 42h1v1h-1zM2 47h1v1h-1zM27 49h1v1h-1zM5 56h1v1h-1zM0 63h1v1h-1z"/>
<path fill="#2283ba" d="M40 0h1v1h-1zM23 2h1v1h-1zM2 23h1v1h-1zM56 34h1v1h-1zM63 35h1v1h-1zM40 36h1v1h-1zM0 40h1v1h-1zM36 40h1v1h-1zM63 40h1v1h-1zM34 56h1v1h-1zM35 63h1v1h-1zM40 63h1v1h-1z"/>
<path fill="#1f80b8" d="M46 42h1v1h-1zM42 46h1v1h-1zM56 48h1v1h-1zM56 49h1v1h-1zM48 56h2v1h-2z"/>
<path fill="#1d7eb7" d="M35 0h1v1h-1zM37 0h1v1h-1zM5 2h1v1h-1zM48 2h1v1h-1zM51 3h1v1h-1zM63 3h1v1h-1zM2 5h1v1h-1zM34 5h1v1h-1zM43 5h1v1h-1zM23 9h1v1h-1zM48 9h1v1h-1zM49 11h1v1h-1zM36 12h1v1h-1zM49 14h1v1h-1zM40 15h1v1h-1zM63 15h1v1h-1zM49 18h1v1h-1zM49 19h1v1h-1zM9 23h1v1h-1zM31 23h1v1h-1zM41 23h3v1h-3zM56 23h1v1h-1zM43 25h1v1h-1zM49 28h1v1h-1zM51 29h1v1h-1zM23 31h1v1h-1zM48 31h1v1h-1zM5 34h1v1h-1zM49 34h1v1h-1zM0 35h1v1h-1zM36 35h1v1h-1zM12 36h1v1h-1zM35 36h1v1h-1zM0 37h1v1h-1zM63 37h1v1h-1zM60 38h1v1h-1zM15 40h1v1h-1zM57 40h1v1h-1zM23 41h1v1h-1zM23 42h1v1h-1zM5 43h1v1h-1zM23 43h1v1h-1zM25 43h1v1h-1zM48 43h1v1h-1zM48 46h2v1h-2zM49 47h1v1h-1zM2 48h1v1h-1zM9 48h1v1h-1zM31 48h1v1h-1zM43 48h1v1h-1zM46 48h1v1h-1zM11 49h1v1h-1zM14 49h1v1h-1zM18 49h2v1h-2zM28 49h1v1h-1zM34 49h1v1h-1zM46 49h2v1h-2zM3 51h1v1h-1zM29 51h1v1h-1zM23 56h1v1h-1zM40 57h1v1h-1zM63 57h1v1h-1zM38 60h1v1h-1zM3 63h1v1h-1zM15 63h1v1h-1zM37 63h1v1h-1zM57 63h1v1h-1z"/>
<path fill="#1a7ab5" d="M9 5h1v1h-1zM5 9h1v1h-1zM29 20h1v1h-1zM29 22h1v1h-1zM20 29h1v1h-1zM22 29h1v1h-1zM46 41h1v1h-1zM41 46h1v1h-1z"/>
<path fill="#1878b4" d="M22 0h1v1h-1zM20 3h1v1h-1zM28 5h1v1h-1zM34 9h1v1h-1zM22 15h1v1h-1zM35 15h1v1h-1zM37 15h1v1h-1zM3 20h1v1h-1zM0 22h1v1h-1zM15 22h1v1h-1zM35 22h1v1h-1zM37 22h1v1h-1zM31 27h1v1h-1zM42 27h1v1h-1zM56 27h1v1h-1zM5 28h1v1h-1zM45 29h1v1h-1zM63 29h1v1h-1zM27 31h1v1h-1zM34 31h1v1h-1zM49 31h1v1h-1zM9 34h1v1h-1zM31 34h1v1h-1zM43 34h1v1h-1zM15 35h1v1h-1zM22 35h1v1h-1zM37 36h1v1h-1zM15 37h1v1h-1zM22 37h1v1h-1zM36 37h1v1h-1zM27 42h1v1h-1zM34 43h1v1h-1zM29 45h1v1h-1zM31 49h1v1h-1zM27 56h1v1h-1zM29 63h1v1h-1z"/>
<path fill="#1171b1" d="M27 25h1v1h-1zM25 27h1v1h-1z"/>
<path fill="#0f6faf" d="M34 2h1v1h-1zM49 2h1v1h-1zM29 3h1v1h-1zM52 3h1v1h-1zM11 5h1v1h-1zM14 5h1v1h-1zM18 5h1v1h-1zM47 5h1v1h-1zM53 7h1v1h-1zM49 9h1v1h-1zM5 11h1v1h-1zM5 14h1v1h-1zM5 18h1v1h-1zM63 20h1v1h-1zM57 22h1v1h-1zM41 27h1v1h-1zM3 29h1v1h-1zM41 31h2v1h-2zM2 34h1v1h-1zM63 36h1v1h-1zM27 41h1v1h-1zM31 41h1v1h-1zM56 41h1v1h-1zM31 42h1v1h-1zM43 42h1v1h-1zM56 42h1v1h-1zM42 43h1v1h-1zM49 43h1v1h-1zM5 47h1v1h-1zM2 49h1v1h-1zM9 49h1v1h-1zM43 49h1v1h-1zM63 51h1v1h-1zM3 52h1v1h-1zM63 52h1v1h-1zM7 53h1v1h-1zM41 56h2v1h-2zM22 57h1v1h-1zM20 63h1v1h-1zM36 63h1v1h-1zM51 63h2v1h-2z"/>
<path fill="#0b6cae" d="M43 41h1v1h-1zM41 43h1v1h-1z"/>
<path fill="#0969ad" d="M57 0h1v1h-1zM27 2h1v1h-1zM41 2h2v1h-2zM19 5h1v1h-1zM27 9h1v1h-1zM41 9h2v1h-2zM5 19h1v1h-1zM46 23h1v1h-1zM34 25h1v1h-1zM2 27h1v1h-1zM9 27h1v1h-1zM34 27h1v1h-1zM43 27h1v1h-1zM25 34h1v1h-1zM27 34h1v1h-1zM2 41h1v1h-1zM9 41h1v1h-1zM2 42h1v1h-1zM9 42h1v1h-1zM27 43h1v1h-1zM23 46h1v1h-1zM0 57h1v1h-1z"/>
<path fill="#0866a9" d="M51 20h2v1h-2zM52 22h1v1h-1zM52 29h1v1h-1zM57 37h1v1h-1zM42 41h1v1h-1zM41 42h1v1h-1zM46 43h1v1h-1zM43 46h1v1h-1zM20 51h1v1h-1zM52 51h1v1h-1zM20 52h1v1h-1zM22 52h1v1h-1zM29 52h1v1h-1zM51 52h1v1h-1zM37 57h1v1h-1z"/>
<path fill="#085fa3" d="M44 1h1v1h-1zM46 2h1v1h-1zM46 9h1v1h-1zM57 15h1v1h-1zM63 22h1v1h-1zM46 31h1v1h-1zM1 44h1v1h-1zM2 46h1v1h-1zM9 46h1v1h-1zM31 46h1v1h-1zM15 57h1v1h-1zM22 63h1v1h-1z"/>
<path fill="#08599c" d="M49 5h1v1h-1zM47 11h1v1h-1zM47 14h1v1h-1zM47 18h1v1h-1zM47 19h1v1h-1zM36 22h1v1h-1zM47 28h1v1h-1zM22 36h1v1h-1zM57 36h1v1h-1zM11 47h1v1h-1zM14 47h1v1h-1zM18 47h2v1h-2zM28 47h1v1h-1zM5 49h1v1h-1zM36 57h1v1h-1z"/>
<path fill="#084f91" d="M36 0h1v1h-1zM31 2h1v1h-1zM31 9h1v1h-1zM16 12h1v1h-1zM12 16h1v1h-1zM2 31h1v1h-1zM9 31h1v1h-1zM43 31h1v1h-1zM0 36h1v1h-1zM31 43h1v1h-1zM56 46h1v1h-1zM46 56h1v1h-1z"/>
<path fill="#08498a" d="M15 0h1v1h-1zM43 2h1v1h-1zM43 9h1v1h-1zM12 10h1v1h-1zM16 10h1v1h-1zM21 10h1v1h-1zM30 10h1v1h-1zM18 11h2v1h-2zM28 11h1v1h-1zM10 12h1v1h-1zM18 14h2v1h-2zM28 14h1v1h-1zM0 15h1v1h-1zM36 15h1v1h-1zM10 16h1v1h-1zM21 16h1v1h-1zM30 16h1v1h-1zM11 18h1v1h-1zM14 18h1v1h-1zM19 18h1v1h-1zM28 18h1v1h-1zM11 19h1v1h-1zM14 19h1v1h-1zM18 19h1v1h-1zM28 19h1v1h-1zM10 21h1v1h-1zM16 21h1v1h-1zM11 28h1v1h-1zM14 28h1v1h-1zM18 28h2v1h-2zM10 30h1v1h-1zM16 30h1v1h-1zM56 31h1v1h-1zM15 36h1v1h-1zM2 43h1v1h-1zM9 43h1v1h-1zM56 43h1v1h-1zM31 56h1v1h-1zM43 56h1v1h-1z"/>
<path fill="#084688" d="M56 2h1v1h-1zM56 9h1v1h-1zM2 56h1v1h-1zM9 56h1v1h-1z"/>
<path fill="#084081" d="M0 0h1v1h-1zM1 1h1v1h-1zM2 2h1v1h-1zM9 2h1v1h-1zM3 3h1v1h-1zM4 4h1v1h-1zM5 5h1v1h-1zM6 6h1v1h-1zM7 7h1v1h-1zM8 8h1v1h-1zM2 9h1v1h-1zM9 9h1v1h-1zM10 10h1v1h-1zM11 11h1v1h-1zM14 11h1v1h-1zM12 12h1v1h-1zM21 12h1v1h-1zM30 12h1v1h-1zM13 13h1v1h-1zM11 14h1v1h-1zM14 14h1v1h-1zM15 15h1v1h-1zM16 16h1v1h-1zM17 17h1v1h-1zM18 18h1v1h-1zM19 19h1v1h-1zM20 20h1v1h-1zM12 21h1v1h-1zM21 21h1v1h-1zM30 21h1v1h-1zM22 22h1v1h-1zM23 23h1v1h-1zM24 24h1v1h-1zM25 25h1v1h-1zM26 26h1v1h-1zM27 27h1v1h-1zM28 28h1v1h-1zM29 29h1v1h-1zM12 30h1v1h-1zM21 30h1v1h-1zM30 30h1v1h-1zM31 31h1v1h-1zM32 32h1v1h-1zM33 33h1v1h-1zM34 34h1v1h-1zM35 35h1v1h-1zM36 36h1v1h-1zM37 37h1v1h-1zM38 38h1v1h-1zM39 39h1v1h-1zM40 40h1v1h-1zM41 41h1v1h-1zM42 42h1v1h-1zM43 43h1v1h-1zM44 44h1v1h-1zM45 45h1v1h-1zM46 46h1v1h-1zM47 47h1v1h-1zM48 48h1v1h-1zM49 49h1v1h-1zM50 50h1v1h-1zM51 51h1v1h-1zM52 52h1v1h-1zM53 53h1v1h-1zM54 54h1v1h-1zM55 55h1v1h-1zM56 56h1v1h-1zM57 57h1v1h-1zM58 58h1v1h-1zM59 59h1v1h-1zM60 60h1v1h-1zM61 61h1v1h-1zM62 62h1v1h-1zM63 63h1v1h-1z"/>
</g>
</g>
<g class="deco" style="filter:blur(0.85px)">
<rect class="marker" x="1373.2" y="965.8" width="16.8" height="16.8" rx="3" fill="#fff" fill-opacity="0.8"/>
<g class="ticks" stroke="#777" stroke-width="1.7">
<line x1="1354.8" y1="958.87" x2="1360.8" y2="958.87"/>
<line x1="1354.8" y1="1007.55" x2="1360.8" y2="1007.55"/>
<line x1="1354.8" y1="1056.23" x2="1360.8" y2="1056.23"/>
<line x1="1354.8" y1="1104.91" x2="1360.8" y2="1104.91"/>
<line x1="1354.8" y1="1153.59" x2="1360.8" y2="1153.59"/>
<line x1="1354.8" y1="1202.27" x2="1360.8" y2="1202.27"/>
<line x1="1354.8" y1="1250.95" x2="1360.8" y2="1250.95"/>
<line x1="1354.8" y1="1299.63" x2="1360.8" y2="1299.63"/>
<line x1="1354.8" y1="1348.31" x2="1360.8" y2="1348.31"/>
<line x1="1354.8" y1="1396.99" x2="1360.8" y2="1396.99"/>
<line x1="1354.8" y1="1445.66" x2="1360.8" y2="1445.66"/>
<line x1="1354.8" y1="1494.34" x2="1360.8" y2="1494.34"/>
<line x1="1354.8" y1="1543.02" x2="1360.8" y2="1543.02"/>
<line x1="1367.92" y1="1577.1" x2="1367.92" y2="1583.1"/>
<line x1="1439.13" y1="1577.1" x2="1439.13" y2="1583.1"/>
<line x1="1510.34" y1="1577.1" x2="1510.34" y2="1583.1"/>
<line x1="1581.55" y1="1577.1" x2="1581.55" y2="1583.1"/>
<line x1="1652.76" y1="1577.1" x2="1652.76" y2="1583.1"/>
<line x1="1723.98" y1="1577.1" x2="1723.98" y2="1583.1"/>
<line x1="1795.19" y1="1577.1" x2="1795.19" y2="1583.1"/>
<line x1="1866.4" y1="1577.1" x2="1866.4" y2="1583.1"/>
<line x1="1937.61" y1="1577.1" x2="1937.61" y2="1583.1"/>
<line x1="2008.82" y1="1577.1" x2="2008.82" y2="1583.1"/>
<line x1="2080.03" y1="1577.1" x2="2080.03" y2="1583.1"/>
<line x1="2151.24" y1="1577.1" x2="2151.24" y2="1583.1"/>
<line x1="2222.45" y1="1577.1" x2="2222.45" y2="1583.1"/>
<line x1="2360.3" y1="1577.1" x2="2366.3" y2="1577.1"/>
<line x1="2360.3" y1="1452.48" x2="2366.3" y2="1452.48"/>
<line x1="2360.3" y1="1327.86" x2="2366.3" y2="1327.86"/>
<line x1="2360.3" y1="1203.24" x2="2366.3" y2="1203.24"/>
<line x1="2360.3" y1="1078.62" x2="2366.3" y2="1078.62"/>
<line x1="2360.3" y1="954" x2="2366.3" y2="954"/>
</g>
<g class="labels" font-family="'Liberation Sans', Arial, sans-serif" font-size="27.5" fill="#141414" stroke="#141414" stroke-width="0.5">
<text x="1352.1" y="968.77" text-anchor="end">0</text>
<text x="1352.1" y="1017.45" text-anchor="end">5</text>
<text x="1352.1" y="1066.13" text-anchor="end">10</text>
<text x="1352.1" y="1114.81" text-anchor="end">15</text>
<text x="1352.1" y="1163.49" text-anchor="end">20</text>
<text x="1352.1" y="1212.17" text-anchor="end">25</text>
<text x="1352.1" y="1260.85" text-anchor="end">30</text>
<text x="1352.1" y="1309.53" text-anchor="end">35</text>
<text x="1352.1" y="1358.21" text-anchor="end">40</text>
<text x="1352.1" y="1406.89" text-anchor="end">45</text>
<text x="1352.1" y="1455.56" text-anchor="end">50</text>
<text x="1352.1" y="1504.24" text-anchor="end">55</text>
<text x="1352.1" y="1552.92" text-anchor="end">60</text>
<text x="1367.92" y="1605.3" text-anchor="middle">0</text>
<text x="1439.13" y="1605.3" text-anchor="middle">5</text>
<text x="1510.34" y="1605.3" text-anchor="middle">10</text>
<text x="1581.55" y="1605.3" text-anchor="middle">15</text>
<text x="1652.76" y="1605.3" text-anchor="middle">20</text>
<text x="1723.98" y="1605.3" text-anchor="middle">25</text>
<text x="1795.19" y="1605.3" text-anchor="middle">30</text>
<text x="1866.4" y="1605.3" text-anchor="middle">35</text>
<text x="1937.61" y="1605.3" text-anchor="middle">40</text>
<text x="2008.82" y="1605.3" text-anchor="middle">45</text>
<text x="2080.03" y="1605.3" text-anchor="middle">50</text>
<text x="2151.24" y="1605.3" text-anchor="middle">55</text>
<text x="2222.45" y="1605.3" text-anchor="middle">60</text>
<text x="2370.8" y="1587">0.0</text>
<text x="2370.8" y="1462.38">0.2</text>
<text x="2370.8" y="1337.76">0.4</text>
<text x="2370.8" y="1213.14">0.6</text>
<text x="2370.8" y="1088.52">0.8</text>
<text x="2370.8" y="963.9">1.0</text>
</g>
<rect class="cbar" x="2328.3" y="954" width="32" height="623.1" fill="url(#gd)"/>
</g>
</svg>
<figcaption style="left:531.7px;top:805.95px;width:200px;height:96.95px;font-size:68px"><span>(d)</span></figcaption>
</figure>
</body></html>
